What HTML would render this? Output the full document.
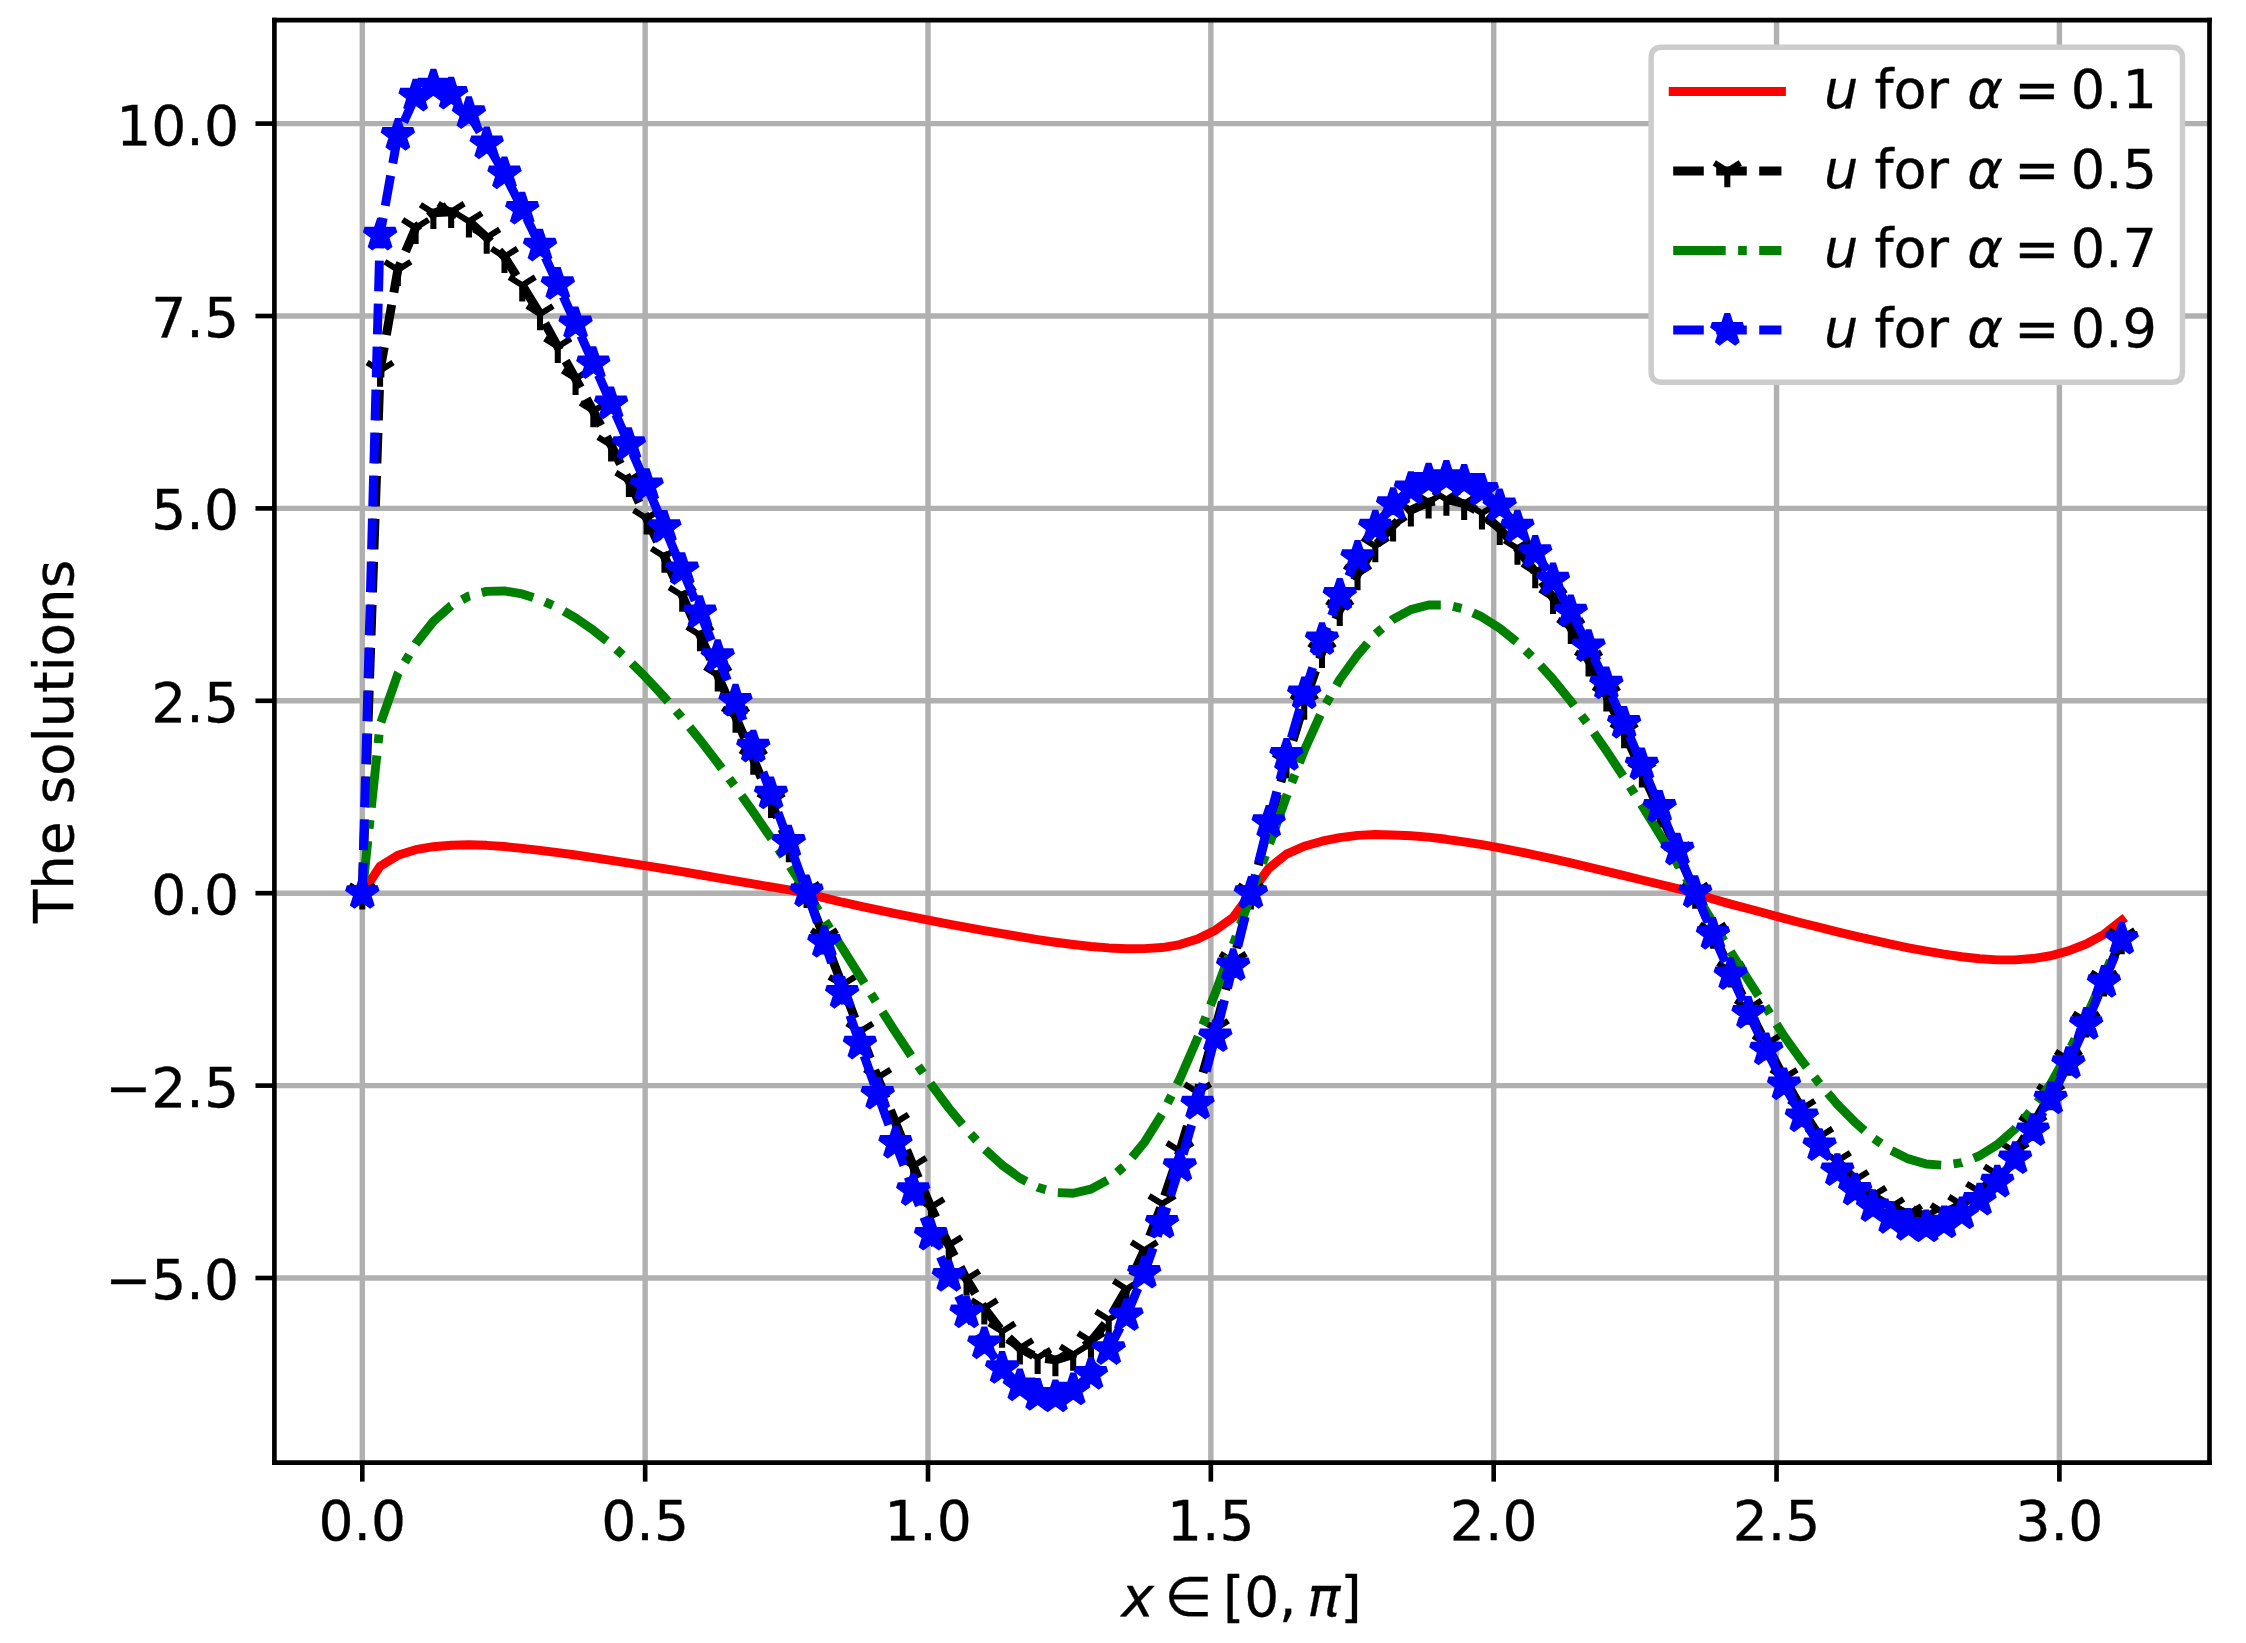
<!DOCTYPE html>
<html><head><meta charset="utf-8"><title>The solutions</title>
<style>html,body{margin:0;padding:0;background:#fff}svg{display:block}svg text{stroke:#000;stroke-width:0.06px}</style></head>
<body>
<svg width="2246" height="1643" viewBox="0 0 415.157116 303.696858" version="1.1">
 <defs>
  <style type="text/css">*{stroke-linejoin: round; stroke-linecap: butt}</style>
 </defs>
 <g id="figure_1">
  <g id="patch_1">
   <path d="M 0 303.696858 
L 415.157116 303.696858 
L 415.157116 0 
L 0 0 
z
" style="fill: #ffffff"/>
  </g>
  <g id="axes_1">
   <g id="patch_2">
    <path d="M 50.720887 270.369686 
L 408.410351 270.369686 
L 408.410351 3.733826 
L 50.720887 3.733826 
z
" style="fill: #ffffff"/>
   </g>
   <g id="matplotlib.axis_1">
    <g id="xtick_1">
     <g id="line2d_1">
      <path d="M 66.968577 270.369686 
L 66.968577 3.733826 
" clip-path="url(#pef61b93e71)" style="fill: none; stroke: #b0b0b0; stroke-linecap: square"/>
     </g>
     <g id="line2d_2">
      
      <g>
       <path d="M 0 0 L 0 3.5 " transform="translate(66.968577 270.369686)" style="stroke: #000000; stroke-width: 0.86"/>
      </g>
     </g>
     <g id="text_1">
      <text style="font-size: 10.19px; font-family: 'DejaVu Sans', 'Liberation Sans', sans-serif; text-anchor: middle" x="66.968577" y="284.612494" transform="rotate(-0 66.968577 284.612494)">0.0</text>
     </g>
    </g>
    <g id="xtick_2">
     <g id="line2d_3">
      <path d="M 119.251386 270.369686 
L 119.251386 3.733826 
" clip-path="url(#pef61b93e71)" style="fill: none; stroke: #b0b0b0; stroke-linecap: square"/>
     </g>
     <g id="line2d_4">
      <g>
       <path d="M 0 0 L 0 3.5 " transform="translate(119.251386 270.369686)" style="stroke: #000000; stroke-width: 0.86"/>
      </g>
     </g>
     <g id="text_2">
      <text style="font-size: 10.19px; font-family: 'DejaVu Sans', 'Liberation Sans', sans-serif; text-anchor: middle" x="119.251386" y="284.612494" transform="rotate(-0 119.251386 284.612494)">0.5</text>
     </g>
    </g>
    <g id="xtick_3">
     <g id="line2d_5">
      <path d="M 171.534196 270.369686 
L 171.534196 3.733826 
" clip-path="url(#pef61b93e71)" style="fill: none; stroke: #b0b0b0; stroke-linecap: square"/>
     </g>
     <g id="line2d_6">
      <g>
       <path d="M 0 0 L 0 3.5 " transform="translate(171.534196 270.369686)" style="stroke: #000000; stroke-width: 0.86"/>
      </g>
     </g>
     <g id="text_3">
      <text style="font-size: 10.19px; font-family: 'DejaVu Sans', 'Liberation Sans', sans-serif; text-anchor: middle" x="171.534196" y="284.612494" transform="rotate(-0 171.534196 284.612494)">1.0</text>
     </g>
    </g>
    <g id="xtick_4">
     <g id="line2d_7">
      <path d="M 223.817006 270.369686 
L 223.817006 3.733826 
" clip-path="url(#pef61b93e71)" style="fill: none; stroke: #b0b0b0; stroke-linecap: square"/>
     </g>
     <g id="line2d_8">
      <g>
       <path d="M 0 0 L 0 3.5 " transform="translate(223.817006 270.369686)" style="stroke: #000000; stroke-width: 0.86"/>
      </g>
     </g>
     <g id="text_4">
      <text style="font-size: 10.19px; font-family: 'DejaVu Sans', 'Liberation Sans', sans-serif; text-anchor: middle" x="223.817006" y="284.612494" transform="rotate(-0 223.817006 284.612494)">1.5</text>
     </g>
    </g>
    <g id="xtick_5">
     <g id="line2d_9">
      <path d="M 276.099815 270.369686 
L 276.099815 3.733826 
" clip-path="url(#pef61b93e71)" style="fill: none; stroke: #b0b0b0; stroke-linecap: square"/>
     </g>
     <g id="line2d_10">
      <g>
       <path d="M 0 0 L 0 3.5 " transform="translate(276.099815 270.369686)" style="stroke: #000000; stroke-width: 0.86"/>
      </g>
     </g>
     <g id="text_5">
      <text style="font-size: 10.19px; font-family: 'DejaVu Sans', 'Liberation Sans', sans-serif; text-anchor: middle" x="276.099815" y="284.612494" transform="rotate(-0 276.099815 284.612494)">2.0</text>
     </g>
    </g>
    <g id="xtick_6">
     <g id="line2d_11">
      <path d="M 328.382625 270.369686 
L 328.382625 3.733826 
" clip-path="url(#pef61b93e71)" style="fill: none; stroke: #b0b0b0; stroke-linecap: square"/>
     </g>
     <g id="line2d_12">
      <g>
       <path d="M 0 0 L 0 3.5 " transform="translate(328.382625 270.369686)" style="stroke: #000000; stroke-width: 0.86"/>
      </g>
     </g>
     <g id="text_6">
      <text style="font-size: 10.19px; font-family: 'DejaVu Sans', 'Liberation Sans', sans-serif; text-anchor: middle" x="328.382625" y="284.612494" transform="rotate(-0 328.382625 284.612494)">2.5</text>
     </g>
    </g>
    <g id="xtick_7">
     <g id="line2d_13">
      <path d="M 380.665434 270.369686 
L 380.665434 3.733826 
" clip-path="url(#pef61b93e71)" style="fill: none; stroke: #b0b0b0; stroke-linecap: square"/>
     </g>
     <g id="line2d_14">
      <g>
       <path d="M 0 0 L 0 3.5 " transform="translate(380.665434 270.369686)" style="stroke: #000000; stroke-width: 0.86"/>
      </g>
     </g>
     <g id="text_7">
      <text style="font-size: 10.19px; font-family: 'DejaVu Sans', 'Liberation Sans', sans-serif; text-anchor: middle" x="380.665434" y="284.612494" transform="rotate(-0 380.665434 284.612494)">3.0</text>
     </g>
    </g>
    <g id="text_8">
     <!-- $x\in [0,\pi]$ -->
     <g transform="translate(207.286369 299.044109)">
      <text><tspan x="0" y="-0.40625" style="font-style: oblique; font-size: 10.15px; font-family: 'DejaVu Sans', 'Liberation Sans', sans-serif">x</tspan> <tspan x="7.964539" y="-0.40625" style="font-size: 10.15px; font-family: 'DejaVu Sans', 'Liberation Sans', sans-serif">∈</tspan> <tspan x="18.756958" y="-0.40625" style="font-size: 10.15px; font-family: 'DejaVu Sans', 'Liberation Sans', sans-serif">[</tspan><tspan x="22.707092" y="-0.40625" style="font-size: 10.15px; font-family: 'DejaVu Sans', 'Liberation Sans', sans-serif">0</tspan><tspan x="29.148926" y="-0.40625" style="font-size: 10.15px; font-family: 'DejaVu Sans', 'Liberation Sans', sans-serif">,</tspan> <tspan x="34.339966" y="-0.40625" style="font-style: oblique; font-size: 10.15px; font-family: 'DejaVu Sans', 'Liberation Sans', sans-serif">π</tspan><tspan x="40.43573" y="-0.40625" style="font-size: 10.15px; font-family: 'DejaVu Sans', 'Liberation Sans', sans-serif">]</tspan></text>
     </g>
    </g>
   </g>
   <g id="matplotlib.axis_2">
    <g id="ytick_1">
     <g id="line2d_15">
      <path d="M 50.720887 236.229205 
L 408.410351 236.229205 
" clip-path="url(#pef61b93e71)" style="fill: none; stroke: #b0b0b0; stroke-linecap: square"/>
     </g>
     <g id="line2d_16">
      
      <g>
       <path d="M 0 0 L -3.5 0 " transform="translate(50.720887 236.229205)" style="stroke: #000000; stroke-width: 0.86"/>
      </g>
     </g>
     <g id="text_9">
      <text style="font-size: 10.19px; font-family: 'DejaVu Sans', 'Liberation Sans', sans-serif; text-anchor: end" x="44.170887" y="240.100609" transform="rotate(-0 44.170887 240.100609)">−5.0</text>
     </g>
    </g>
    <g id="ytick_2">
     <g id="line2d_17">
      <path d="M 50.720887 200.665434 
L 408.410351 200.665434 
" clip-path="url(#pef61b93e71)" style="fill: none; stroke: #b0b0b0; stroke-linecap: square"/>
     </g>
     <g id="line2d_18">
      <g>
       <path d="M 0 0 L -3.5 0 " transform="translate(50.720887 200.665434)" style="stroke: #000000; stroke-width: 0.86"/>
      </g>
     </g>
     <g id="text_10">
      <text style="font-size: 10.19px; font-family: 'DejaVu Sans', 'Liberation Sans', sans-serif; text-anchor: end" x="44.170887" y="204.536838" transform="rotate(-0 44.170887 204.536838)">−2.5</text>
     </g>
    </g>
    <g id="ytick_3">
     <g id="line2d_19">
      <path d="M 50.720887 165.101664 
L 408.410351 165.101664 
" clip-path="url(#pef61b93e71)" style="fill: none; stroke: #b0b0b0; stroke-linecap: square"/>
     </g>
     <g id="line2d_20">
      <g>
       <path d="M 0 0 L -3.5 0 " transform="translate(50.720887 165.101664)" style="stroke: #000000; stroke-width: 0.86"/>
      </g>
     </g>
     <g id="text_11">
      <text style="font-size: 10.19px; font-family: 'DejaVu Sans', 'Liberation Sans', sans-serif; text-anchor: end" x="44.170887" y="168.973067" transform="rotate(-0 44.170887 168.973067)">0.0</text>
     </g>
    </g>
    <g id="ytick_4">
     <g id="line2d_21">
      <path d="M 50.720887 129.537893 
L 408.410351 129.537893 
" clip-path="url(#pef61b93e71)" style="fill: none; stroke: #b0b0b0; stroke-linecap: square"/>
     </g>
     <g id="line2d_22">
      <g>
       <path d="M 0 0 L -3.5 0 " transform="translate(50.720887 129.537893)" style="stroke: #000000; stroke-width: 0.86"/>
      </g>
     </g>
     <g id="text_12">
      <text style="font-size: 10.19px; font-family: 'DejaVu Sans', 'Liberation Sans', sans-serif; text-anchor: end" x="44.170887" y="133.409297" transform="rotate(-0 44.170887 133.409297)">2.5</text>
     </g>
    </g>
    <g id="ytick_5">
     <g id="line2d_23">
      <path d="M 50.720887 93.974122 
L 408.410351 93.974122 
" clip-path="url(#pef61b93e71)" style="fill: none; stroke: #b0b0b0; stroke-linecap: square"/>
     </g>
     <g id="line2d_24">
      <g>
       <path d="M 0 0 L -3.5 0 " transform="translate(50.720887 93.974122)" style="stroke: #000000; stroke-width: 0.86"/>
      </g>
     </g>
     <g id="text_13">
      <text style="font-size: 10.19px; font-family: 'DejaVu Sans', 'Liberation Sans', sans-serif; text-anchor: end" x="44.170887" y="97.845526" transform="rotate(-0 44.170887 97.845526)">5.0</text>
     </g>
    </g>
    <g id="ytick_6">
     <g id="line2d_25">
      <path d="M 50.720887 58.410351 
L 408.410351 58.410351 
" clip-path="url(#pef61b93e71)" style="fill: none; stroke: #b0b0b0; stroke-linecap: square"/>
     </g>
     <g id="line2d_26">
      <g>
       <path d="M 0 0 L -3.5 0 " transform="translate(50.720887 58.410351)" style="stroke: #000000; stroke-width: 0.86"/>
      </g>
     </g>
     <g id="text_14">
      <text style="font-size: 10.19px; font-family: 'DejaVu Sans', 'Liberation Sans', sans-serif; text-anchor: end" x="44.170887" y="62.281755" transform="rotate(-0 44.170887 62.281755)">7.5</text>
     </g>
    </g>
    <g id="ytick_7">
     <g id="line2d_27">
      <path d="M 50.720887 22.84658 
L 408.410351 22.84658 
" clip-path="url(#pef61b93e71)" style="fill: none; stroke: #b0b0b0; stroke-linecap: square"/>
     </g>
     <g id="line2d_28">
      <g>
       <path d="M 0 0 L -3.5 0 " transform="translate(50.720887 22.84658)" style="stroke: #000000; stroke-width: 0.86"/>
      </g>
     </g>
     <g id="text_15">
      <text style="font-size: 10.19px; font-family: 'DejaVu Sans', 'Liberation Sans', sans-serif; text-anchor: end" x="44.170887" y="26.717984" transform="rotate(-0 44.170887 26.717984)">10.0</text>
     </g>
    </g>
    <g id="text_16">
     <text style="font-size: 10.08px; font-family: 'DejaVu Sans', 'Liberation Sans', sans-serif; text-anchor: middle" x="13.530376" y="137.051756" transform="rotate(-90 13.530376 137.051756)">The solutions</text>
    </g>
   </g>
   <g id="line2d_29">
    <path d="M 66.968577 165.101664 
L 70.253603 160.122736 
L 73.538628 158.102713 
L 76.823654 157.064251 
L 80.10868 156.509457 
L 83.393706 156.239172 
L 86.678732 156.153819 
L 89.963757 156.253397 
L 93.248783 156.481006 
L 96.533809 156.808192 
L 99.818835 157.192281 
L 103.103861 157.596094 
L 106.388886 158.031586 
L 109.673912 158.514583 
L 112.958938 159.027372 
L 116.243964 159.547339 
L 119.52899 160.065834 
L 122.814016 160.582788 
L 126.099041 161.118521 
L 129.384067 161.688799 
L 132.669093 162.270787 
L 135.954119 162.838831 
L 139.239145 163.394603 
L 142.52417 163.944932 
L 145.809196 164.489967 
L 149.094222 165.101664 
L 152.379248 165.96942 
L 155.664274 166.769268 
L 158.949299 167.477323 
L 162.234325 168.171107 
L 165.519351 168.857198 
L 168.804377 169.526752 
L 172.089403 170.18017 
L 175.374428 170.817986 
L 178.659454 171.432015 
L 181.94448 172.016522 
L 185.229506 172.584281 
L 188.514532 173.145254 
L 191.799558 173.679645 
L 195.084583 174.164013 
L 198.369609 174.590078 
L 201.654635 174.949183 
L 204.939661 175.216 
L 208.224687 175.358255 
L 211.509712 175.34403 
L 214.794738 175.144872 
L 218.079764 174.604303 
L 221.36479 173.565841 
L 224.649816 171.929908 
L 227.934841 169.582699 
L 231.219867 165.101664 
L 234.504893 160.52105 
L 237.789919 157.875105 
L 241.074945 156.424104 
L 244.359971 155.48522 
L 247.644996 154.830847 
L 250.930022 154.418307 
L 254.215048 154.261826 
L 257.500074 154.332954 
L 260.7851 154.475209 
L 264.070125 154.745494 
L 267.355151 155.139366 
L 270.640177 155.61325 
L 273.925203 156.133123 
L 277.210229 156.708614 
L 280.495254 157.352413 
L 283.78028 158.045811 
L 287.065306 158.766735 
L 290.350332 159.511039 
L 293.635358 160.277873 
L 296.920384 161.061619 
L 300.205409 161.855753 
L 303.490435 162.654876 
L 306.775461 163.453936 
L 310.060487 164.248133 
L 313.345513 165.101664 
L 316.630538 166.175689 
L 319.915564 167.123804 
L 323.20059 167.975216 
L 326.485616 168.859514 
L 329.770642 169.753405 
L 333.055667 170.608889 
L 336.340693 171.432015 
L 339.625719 172.238074 
L 342.910745 173.025272 
L 346.195771 173.78667 
L 349.480797 174.511837 
L 352.765822 175.19012 
L 356.050848 175.813471 
L 359.335874 176.372763 
L 362.6209 176.851933 
L 365.905926 177.221797 
L 369.190951 177.420954 
L 372.475977 177.420954 
L 375.761003 177.17912 
L 379.046029 176.661312 
L 382.331055 175.770795 
L 385.61608 174.490499 
L 388.901106 172.698085 
L 392.186132 170.109043 
" clip-path="url(#pef61b93e71)" style="fill: none; stroke: #ff0000; stroke-width: 1.65; stroke-linecap: square"/>
   </g>
   <g id="line2d_30">
    <path d="M 66.968577 165.101664 
L 70.253603 68.510462 
L 73.538628 49.875046 
L 76.823654 42.122144 
L 80.10868 39.34817 
L 83.393706 39.134787 
L 86.678732 40.912976 
L 89.963757 43.900333 
L 93.248783 47.45671 
L 96.533809 52.720148 
L 99.818835 58.054713 
L 103.103861 64.100555 
L 106.388886 70.00414 
L 109.673912 75.978854 
L 112.958938 82.309205 
L 116.243964 88.852939 
L 119.52899 95.815924 
L 122.814016 102.888038 
L 126.099041 110.071114 
L 129.384067 117.37505 
L 132.669093 124.818279 
L 135.954119 132.421466 
L 139.239145 140.205406 
L 142.52417 148.192348 
L 145.809196 156.401835 
L 149.094222 164.833469 
L 152.379248 173.415185 
L 155.664274 182.0584 
L 158.949299 190.676423 
L 162.234325 199.184442 
L 165.519351 207.499423 
L 168.804377 215.530754 
L 172.089403 223.138053 
L 175.374428 230.16309 
L 178.659454 236.44505 
L 181.94448 241.820388 
L 185.229506 246.122804 
L 188.514532 249.200975 
L 191.799558 250.971885 
L 195.084583 251.368727 
L 198.369609 250.365872 
L 201.654635 247.913277 
L 204.939661 243.904497 
L 208.224687 238.27056 
L 211.509712 231.094903 
L 214.794738 222.539946 
L 218.079764 212.753018 
L 221.36479 201.900817 
L 224.649816 190.170505 
L 227.934841 177.770352 
L 231.219867 165.110596 
L 234.504893 152.654552 
L 237.789919 140.844753 
L 241.074945 130.031218 
L 244.359971 120.497735 
L 247.644996 112.692187 
L 250.930022 106.116593 
L 254.215048 100.95008 
L 257.500074 97.106023 
L 260.7851 94.319436 
L 264.070125 92.820955 
L 267.355151 92.328497 
L 270.640177 93.112806 
L 273.925203 94.879863 
L 277.210229 97.716814 
L 280.495254 101.375098 
L 283.78028 105.746182 
L 287.065306 110.506254 
L 290.350332 116.035692 
L 293.635358 122.040442 
L 296.920384 128.497678 
L 300.205409 135.320228 
L 303.490435 142.553456 
L 306.775461 149.970268 
L 310.060487 157.474697 
L 313.345513 164.967246 
L 316.630538 172.348071 
L 319.915564 179.52915 
L 323.20059 186.436961 
L 326.485616 192.990908 
L 329.770642 199.236172 
L 333.055667 204.963398 
L 336.340693 210.123969 
L 339.625719 214.586199 
L 342.910745 218.082165 
L 346.195771 221.03154 
L 349.480797 223.126431 
L 352.765822 224.418679 
L 356.050848 224.811584 
L 359.335874 224.222522 
L 362.6209 222.68746 
L 365.905926 220.279852 
L 369.190951 217.08366 
L 372.475977 212.916886 
L 375.761003 207.902156 
L 379.046029 202.203149 
L 382.331055 195.857875 
L 385.61608 188.793586 
L 388.901106 181.216203 
L 392.186132 173.402275 
" clip-path="url(#pef61b93e71)" style="fill: none; stroke-dasharray: 5.65,2.3; stroke-dashoffset: 0; stroke: #000000; stroke-width: 1.65"/>
    
    <g clip-path="url(#pef61b93e71)">
     <path d="M 0 0 L 0 3 M 0 0 L 2.4 -1.5 M 0 0 L -2.4 -1.5 " transform="translate(66.968577 165.101664)" style="stroke: #000000; stroke-width: 1.12"/>
     <path d="M 0 0 L 0 3 M 0 0 L 2.4 -1.5 M 0 0 L -2.4 -1.5 " transform="translate(70.253603 68.510462)" style="stroke: #000000; stroke-width: 1.12"/>
     <path d="M 0 0 L 0 3 M 0 0 L 2.4 -1.5 M 0 0 L -2.4 -1.5 " transform="translate(73.538628 49.875046)" style="stroke: #000000; stroke-width: 1.12"/>
     <path d="M 0 0 L 0 3 M 0 0 L 2.4 -1.5 M 0 0 L -2.4 -1.5 " transform="translate(76.823654 42.122144)" style="stroke: #000000; stroke-width: 1.12"/>
     <path d="M 0 0 L 0 3 M 0 0 L 2.4 -1.5 M 0 0 L -2.4 -1.5 " transform="translate(80.10868 39.34817)" style="stroke: #000000; stroke-width: 1.12"/>
     <path d="M 0 0 L 0 3 M 0 0 L 2.4 -1.5 M 0 0 L -2.4 -1.5 " transform="translate(83.393706 39.134787)" style="stroke: #000000; stroke-width: 1.12"/>
     <path d="M 0 0 L 0 3 M 0 0 L 2.4 -1.5 M 0 0 L -2.4 -1.5 " transform="translate(86.678732 40.912976)" style="stroke: #000000; stroke-width: 1.12"/>
     <path d="M 0 0 L 0 3 M 0 0 L 2.4 -1.5 M 0 0 L -2.4 -1.5 " transform="translate(89.963757 43.900333)" style="stroke: #000000; stroke-width: 1.12"/>
     <path d="M 0 0 L 0 3 M 0 0 L 2.4 -1.5 M 0 0 L -2.4 -1.5 " transform="translate(93.248783 47.45671)" style="stroke: #000000; stroke-width: 1.12"/>
     <path d="M 0 0 L 0 3 M 0 0 L 2.4 -1.5 M 0 0 L -2.4 -1.5 " transform="translate(96.533809 52.720148)" style="stroke: #000000; stroke-width: 1.12"/>
     <path d="M 0 0 L 0 3 M 0 0 L 2.4 -1.5 M 0 0 L -2.4 -1.5 " transform="translate(99.818835 58.054713)" style="stroke: #000000; stroke-width: 1.12"/>
     <path d="M 0 0 L 0 3 M 0 0 L 2.4 -1.5 M 0 0 L -2.4 -1.5 " transform="translate(103.103861 64.100555)" style="stroke: #000000; stroke-width: 1.12"/>
     <path d="M 0 0 L 0 3 M 0 0 L 2.4 -1.5 M 0 0 L -2.4 -1.5 " transform="translate(106.388886 70.00414)" style="stroke: #000000; stroke-width: 1.12"/>
     <path d="M 0 0 L 0 3 M 0 0 L 2.4 -1.5 M 0 0 L -2.4 -1.5 " transform="translate(109.673912 75.978854)" style="stroke: #000000; stroke-width: 1.12"/>
     <path d="M 0 0 L 0 3 M 0 0 L 2.4 -1.5 M 0 0 L -2.4 -1.5 " transform="translate(112.958938 82.309205)" style="stroke: #000000; stroke-width: 1.12"/>
     <path d="M 0 0 L 0 3 M 0 0 L 2.4 -1.5 M 0 0 L -2.4 -1.5 " transform="translate(116.243964 88.852939)" style="stroke: #000000; stroke-width: 1.12"/>
     <path d="M 0 0 L 0 3 M 0 0 L 2.4 -1.5 M 0 0 L -2.4 -1.5 " transform="translate(119.52899 95.815924)" style="stroke: #000000; stroke-width: 1.12"/>
     <path d="M 0 0 L 0 3 M 0 0 L 2.4 -1.5 M 0 0 L -2.4 -1.5 " transform="translate(122.814016 102.888038)" style="stroke: #000000; stroke-width: 1.12"/>
     <path d="M 0 0 L 0 3 M 0 0 L 2.4 -1.5 M 0 0 L -2.4 -1.5 " transform="translate(126.099041 110.071114)" style="stroke: #000000; stroke-width: 1.12"/>
     <path d="M 0 0 L 0 3 M 0 0 L 2.4 -1.5 M 0 0 L -2.4 -1.5 " transform="translate(129.384067 117.37505)" style="stroke: #000000; stroke-width: 1.12"/>
     <path d="M 0 0 L 0 3 M 0 0 L 2.4 -1.5 M 0 0 L -2.4 -1.5 " transform="translate(132.669093 124.818279)" style="stroke: #000000; stroke-width: 1.12"/>
     <path d="M 0 0 L 0 3 M 0 0 L 2.4 -1.5 M 0 0 L -2.4 -1.5 " transform="translate(135.954119 132.421466)" style="stroke: #000000; stroke-width: 1.12"/>
     <path d="M 0 0 L 0 3 M 0 0 L 2.4 -1.5 M 0 0 L -2.4 -1.5 " transform="translate(139.239145 140.205406)" style="stroke: #000000; stroke-width: 1.12"/>
     <path d="M 0 0 L 0 3 M 0 0 L 2.4 -1.5 M 0 0 L -2.4 -1.5 " transform="translate(142.52417 148.192348)" style="stroke: #000000; stroke-width: 1.12"/>
     <path d="M 0 0 L 0 3 M 0 0 L 2.4 -1.5 M 0 0 L -2.4 -1.5 " transform="translate(145.809196 156.401835)" style="stroke: #000000; stroke-width: 1.12"/>
     <path d="M 0 0 L 0 3 M 0 0 L 2.4 -1.5 M 0 0 L -2.4 -1.5 " transform="translate(149.094222 164.833469)" style="stroke: #000000; stroke-width: 1.12"/>
     <path d="M 0 0 L 0 3 M 0 0 L 2.4 -1.5 M 0 0 L -2.4 -1.5 " transform="translate(152.379248 173.415185)" style="stroke: #000000; stroke-width: 1.12"/>
     <path d="M 0 0 L 0 3 M 0 0 L 2.4 -1.5 M 0 0 L -2.4 -1.5 " transform="translate(155.664274 182.0584)" style="stroke: #000000; stroke-width: 1.12"/>
     <path d="M 0 0 L 0 3 M 0 0 L 2.4 -1.5 M 0 0 L -2.4 -1.5 " transform="translate(158.949299 190.676423)" style="stroke: #000000; stroke-width: 1.12"/>
     <path d="M 0 0 L 0 3 M 0 0 L 2.4 -1.5 M 0 0 L -2.4 -1.5 " transform="translate(162.234325 199.184442)" style="stroke: #000000; stroke-width: 1.12"/>
     <path d="M 0 0 L 0 3 M 0 0 L 2.4 -1.5 M 0 0 L -2.4 -1.5 " transform="translate(165.519351 207.499423)" style="stroke: #000000; stroke-width: 1.12"/>
     <path d="M 0 0 L 0 3 M 0 0 L 2.4 -1.5 M 0 0 L -2.4 -1.5 " transform="translate(168.804377 215.530754)" style="stroke: #000000; stroke-width: 1.12"/>
     <path d="M 0 0 L 0 3 M 0 0 L 2.4 -1.5 M 0 0 L -2.4 -1.5 " transform="translate(172.089403 223.138053)" style="stroke: #000000; stroke-width: 1.12"/>
     <path d="M 0 0 L 0 3 M 0 0 L 2.4 -1.5 M 0 0 L -2.4 -1.5 " transform="translate(175.374428 230.16309)" style="stroke: #000000; stroke-width: 1.12"/>
     <path d="M 0 0 L 0 3 M 0 0 L 2.4 -1.5 M 0 0 L -2.4 -1.5 " transform="translate(178.659454 236.44505)" style="stroke: #000000; stroke-width: 1.12"/>
     <path d="M 0 0 L 0 3 M 0 0 L 2.4 -1.5 M 0 0 L -2.4 -1.5 " transform="translate(181.94448 241.820388)" style="stroke: #000000; stroke-width: 1.12"/>
     <path d="M 0 0 L 0 3 M 0 0 L 2.4 -1.5 M 0 0 L -2.4 -1.5 " transform="translate(185.229506 246.122804)" style="stroke: #000000; stroke-width: 1.12"/>
     <path d="M 0 0 L 0 3 M 0 0 L 2.4 -1.5 M 0 0 L -2.4 -1.5 " transform="translate(188.514532 249.200975)" style="stroke: #000000; stroke-width: 1.12"/>
     <path d="M 0 0 L 0 3 M 0 0 L 2.4 -1.5 M 0 0 L -2.4 -1.5 " transform="translate(191.799558 250.971885)" style="stroke: #000000; stroke-width: 1.12"/>
     <path d="M 0 0 L 0 3 M 0 0 L 2.4 -1.5 M 0 0 L -2.4 -1.5 " transform="translate(195.084583 251.368727)" style="stroke: #000000; stroke-width: 1.12"/>
     <path d="M 0 0 L 0 3 M 0 0 L 2.4 -1.5 M 0 0 L -2.4 -1.5 " transform="translate(198.369609 250.365872)" style="stroke: #000000; stroke-width: 1.12"/>
     <path d="M 0 0 L 0 3 M 0 0 L 2.4 -1.5 M 0 0 L -2.4 -1.5 " transform="translate(201.654635 247.913277)" style="stroke: #000000; stroke-width: 1.12"/>
     <path d="M 0 0 L 0 3 M 0 0 L 2.4 -1.5 M 0 0 L -2.4 -1.5 " transform="translate(204.939661 243.904497)" style="stroke: #000000; stroke-width: 1.12"/>
     <path d="M 0 0 L 0 3 M 0 0 L 2.4 -1.5 M 0 0 L -2.4 -1.5 " transform="translate(208.224687 238.27056)" style="stroke: #000000; stroke-width: 1.12"/>
     <path d="M 0 0 L 0 3 M 0 0 L 2.4 -1.5 M 0 0 L -2.4 -1.5 " transform="translate(211.509712 231.094903)" style="stroke: #000000; stroke-width: 1.12"/>
     <path d="M 0 0 L 0 3 M 0 0 L 2.4 -1.5 M 0 0 L -2.4 -1.5 " transform="translate(214.794738 222.539946)" style="stroke: #000000; stroke-width: 1.12"/>
     <path d="M 0 0 L 0 3 M 0 0 L 2.4 -1.5 M 0 0 L -2.4 -1.5 " transform="translate(218.079764 212.753018)" style="stroke: #000000; stroke-width: 1.12"/>
     <path d="M 0 0 L 0 3 M 0 0 L 2.4 -1.5 M 0 0 L -2.4 -1.5 " transform="translate(221.36479 201.900817)" style="stroke: #000000; stroke-width: 1.12"/>
     <path d="M 0 0 L 0 3 M 0 0 L 2.4 -1.5 M 0 0 L -2.4 -1.5 " transform="translate(224.649816 190.170505)" style="stroke: #000000; stroke-width: 1.12"/>
     <path d="M 0 0 L 0 3 M 0 0 L 2.4 -1.5 M 0 0 L -2.4 -1.5 " transform="translate(227.934841 177.770352)" style="stroke: #000000; stroke-width: 1.12"/>
     <path d="M 0 0 L 0 3 M 0 0 L 2.4 -1.5 M 0 0 L -2.4 -1.5 " transform="translate(231.219867 165.110596)" style="stroke: #000000; stroke-width: 1.12"/>
     <path d="M 0 0 L 0 3 M 0 0 L 2.4 -1.5 M 0 0 L -2.4 -1.5 " transform="translate(234.504893 152.654552)" style="stroke: #000000; stroke-width: 1.12"/>
     <path d="M 0 0 L 0 3 M 0 0 L 2.4 -1.5 M 0 0 L -2.4 -1.5 " transform="translate(237.789919 140.844753)" style="stroke: #000000; stroke-width: 1.12"/>
     <path d="M 0 0 L 0 3 M 0 0 L 2.4 -1.5 M 0 0 L -2.4 -1.5 " transform="translate(241.074945 130.031218)" style="stroke: #000000; stroke-width: 1.12"/>
     <path d="M 0 0 L 0 3 M 0 0 L 2.4 -1.5 M 0 0 L -2.4 -1.5 " transform="translate(244.359971 120.497735)" style="stroke: #000000; stroke-width: 1.12"/>
     <path d="M 0 0 L 0 3 M 0 0 L 2.4 -1.5 M 0 0 L -2.4 -1.5 " transform="translate(247.644996 112.692187)" style="stroke: #000000; stroke-width: 1.12"/>
     <path d="M 0 0 L 0 3 M 0 0 L 2.4 -1.5 M 0 0 L -2.4 -1.5 " transform="translate(250.930022 106.116593)" style="stroke: #000000; stroke-width: 1.12"/>
     <path d="M 0 0 L 0 3 M 0 0 L 2.4 -1.5 M 0 0 L -2.4 -1.5 " transform="translate(254.215048 100.95008)" style="stroke: #000000; stroke-width: 1.12"/>
     <path d="M 0 0 L 0 3 M 0 0 L 2.4 -1.5 M 0 0 L -2.4 -1.5 " transform="translate(257.500074 97.106023)" style="stroke: #000000; stroke-width: 1.12"/>
     <path d="M 0 0 L 0 3 M 0 0 L 2.4 -1.5 M 0 0 L -2.4 -1.5 " transform="translate(260.7851 94.319436)" style="stroke: #000000; stroke-width: 1.12"/>
     <path d="M 0 0 L 0 3 M 0 0 L 2.4 -1.5 M 0 0 L -2.4 -1.5 " transform="translate(264.070125 92.820955)" style="stroke: #000000; stroke-width: 1.12"/>
     <path d="M 0 0 L 0 3 M 0 0 L 2.4 -1.5 M 0 0 L -2.4 -1.5 " transform="translate(267.355151 92.328497)" style="stroke: #000000; stroke-width: 1.12"/>
     <path d="M 0 0 L 0 3 M 0 0 L 2.4 -1.5 M 0 0 L -2.4 -1.5 " transform="translate(270.640177 93.112806)" style="stroke: #000000; stroke-width: 1.12"/>
     <path d="M 0 0 L 0 3 M 0 0 L 2.4 -1.5 M 0 0 L -2.4 -1.5 " transform="translate(273.925203 94.879863)" style="stroke: #000000; stroke-width: 1.12"/>
     <path d="M 0 0 L 0 3 M 0 0 L 2.4 -1.5 M 0 0 L -2.4 -1.5 " transform="translate(277.210229 97.716814)" style="stroke: #000000; stroke-width: 1.12"/>
     <path d="M 0 0 L 0 3 M 0 0 L 2.4 -1.5 M 0 0 L -2.4 -1.5 " transform="translate(280.495254 101.375098)" style="stroke: #000000; stroke-width: 1.12"/>
     <path d="M 0 0 L 0 3 M 0 0 L 2.4 -1.5 M 0 0 L -2.4 -1.5 " transform="translate(283.78028 105.746182)" style="stroke: #000000; stroke-width: 1.12"/>
     <path d="M 0 0 L 0 3 M 0 0 L 2.4 -1.5 M 0 0 L -2.4 -1.5 " transform="translate(287.065306 110.506254)" style="stroke: #000000; stroke-width: 1.12"/>
     <path d="M 0 0 L 0 3 M 0 0 L 2.4 -1.5 M 0 0 L -2.4 -1.5 " transform="translate(290.350332 116.035692)" style="stroke: #000000; stroke-width: 1.12"/>
     <path d="M 0 0 L 0 3 M 0 0 L 2.4 -1.5 M 0 0 L -2.4 -1.5 " transform="translate(293.635358 122.040442)" style="stroke: #000000; stroke-width: 1.12"/>
     <path d="M 0 0 L 0 3 M 0 0 L 2.4 -1.5 M 0 0 L -2.4 -1.5 " transform="translate(296.920384 128.497678)" style="stroke: #000000; stroke-width: 1.12"/>
     <path d="M 0 0 L 0 3 M 0 0 L 2.4 -1.5 M 0 0 L -2.4 -1.5 " transform="translate(300.205409 135.320228)" style="stroke: #000000; stroke-width: 1.12"/>
     <path d="M 0 0 L 0 3 M 0 0 L 2.4 -1.5 M 0 0 L -2.4 -1.5 " transform="translate(303.490435 142.553456)" style="stroke: #000000; stroke-width: 1.12"/>
     <path d="M 0 0 L 0 3 M 0 0 L 2.4 -1.5 M 0 0 L -2.4 -1.5 " transform="translate(306.775461 149.970268)" style="stroke: #000000; stroke-width: 1.12"/>
     <path d="M 0 0 L 0 3 M 0 0 L 2.4 -1.5 M 0 0 L -2.4 -1.5 " transform="translate(310.060487 157.474697)" style="stroke: #000000; stroke-width: 1.12"/>
     <path d="M 0 0 L 0 3 M 0 0 L 2.4 -1.5 M 0 0 L -2.4 -1.5 " transform="translate(313.345513 164.967246)" style="stroke: #000000; stroke-width: 1.12"/>
     <path d="M 0 0 L 0 3 M 0 0 L 2.4 -1.5 M 0 0 L -2.4 -1.5 " transform="translate(316.630538 172.348071)" style="stroke: #000000; stroke-width: 1.12"/>
     <path d="M 0 0 L 0 3 M 0 0 L 2.4 -1.5 M 0 0 L -2.4 -1.5 " transform="translate(319.915564 179.52915)" style="stroke: #000000; stroke-width: 1.12"/>
     <path d="M 0 0 L 0 3 M 0 0 L 2.4 -1.5 M 0 0 L -2.4 -1.5 " transform="translate(323.20059 186.436961)" style="stroke: #000000; stroke-width: 1.12"/>
     <path d="M 0 0 L 0 3 M 0 0 L 2.4 -1.5 M 0 0 L -2.4 -1.5 " transform="translate(326.485616 192.990908)" style="stroke: #000000; stroke-width: 1.12"/>
     <path d="M 0 0 L 0 3 M 0 0 L 2.4 -1.5 M 0 0 L -2.4 -1.5 " transform="translate(329.770642 199.236172)" style="stroke: #000000; stroke-width: 1.12"/>
     <path d="M 0 0 L 0 3 M 0 0 L 2.4 -1.5 M 0 0 L -2.4 -1.5 " transform="translate(333.055667 204.963398)" style="stroke: #000000; stroke-width: 1.12"/>
     <path d="M 0 0 L 0 3 M 0 0 L 2.4 -1.5 M 0 0 L -2.4 -1.5 " transform="translate(336.340693 210.123969)" style="stroke: #000000; stroke-width: 1.12"/>
     <path d="M 0 0 L 0 3 M 0 0 L 2.4 -1.5 M 0 0 L -2.4 -1.5 " transform="translate(339.625719 214.586199)" style="stroke: #000000; stroke-width: 1.12"/>
     <path d="M 0 0 L 0 3 M 0 0 L 2.4 -1.5 M 0 0 L -2.4 -1.5 " transform="translate(342.910745 218.082165)" style="stroke: #000000; stroke-width: 1.12"/>
     <path d="M 0 0 L 0 3 M 0 0 L 2.4 -1.5 M 0 0 L -2.4 -1.5 " transform="translate(346.195771 221.03154)" style="stroke: #000000; stroke-width: 1.12"/>
     <path d="M 0 0 L 0 3 M 0 0 L 2.4 -1.5 M 0 0 L -2.4 -1.5 " transform="translate(349.480797 223.126431)" style="stroke: #000000; stroke-width: 1.12"/>
     <path d="M 0 0 L 0 3 M 0 0 L 2.4 -1.5 M 0 0 L -2.4 -1.5 " transform="translate(352.765822 224.418679)" style="stroke: #000000; stroke-width: 1.12"/>
     <path d="M 0 0 L 0 3 M 0 0 L 2.4 -1.5 M 0 0 L -2.4 -1.5 " transform="translate(356.050848 224.811584)" style="stroke: #000000; stroke-width: 1.12"/>
     <path d="M 0 0 L 0 3 M 0 0 L 2.4 -1.5 M 0 0 L -2.4 -1.5 " transform="translate(359.335874 224.222522)" style="stroke: #000000; stroke-width: 1.12"/>
     <path d="M 0 0 L 0 3 M 0 0 L 2.4 -1.5 M 0 0 L -2.4 -1.5 " transform="translate(362.6209 222.68746)" style="stroke: #000000; stroke-width: 1.12"/>
     <path d="M 0 0 L 0 3 M 0 0 L 2.4 -1.5 M 0 0 L -2.4 -1.5 " transform="translate(365.905926 220.279852)" style="stroke: #000000; stroke-width: 1.12"/>
     <path d="M 0 0 L 0 3 M 0 0 L 2.4 -1.5 M 0 0 L -2.4 -1.5 " transform="translate(369.190951 217.08366)" style="stroke: #000000; stroke-width: 1.12"/>
     <path d="M 0 0 L 0 3 M 0 0 L 2.4 -1.5 M 0 0 L -2.4 -1.5 " transform="translate(372.475977 212.916886)" style="stroke: #000000; stroke-width: 1.12"/>
     <path d="M 0 0 L 0 3 M 0 0 L 2.4 -1.5 M 0 0 L -2.4 -1.5 " transform="translate(375.761003 207.902156)" style="stroke: #000000; stroke-width: 1.12"/>
     <path d="M 0 0 L 0 3 M 0 0 L 2.4 -1.5 M 0 0 L -2.4 -1.5 " transform="translate(379.046029 202.203149)" style="stroke: #000000; stroke-width: 1.12"/>
     <path d="M 0 0 L 0 3 M 0 0 L 2.4 -1.5 M 0 0 L -2.4 -1.5 " transform="translate(382.331055 195.857875)" style="stroke: #000000; stroke-width: 1.12"/>
     <path d="M 0 0 L 0 3 M 0 0 L 2.4 -1.5 M 0 0 L -2.4 -1.5 " transform="translate(385.61608 188.793586)" style="stroke: #000000; stroke-width: 1.12"/>
     <path d="M 0 0 L 0 3 M 0 0 L 2.4 -1.5 M 0 0 L -2.4 -1.5 " transform="translate(388.901106 181.216203)" style="stroke: #000000; stroke-width: 1.12"/>
     <path d="M 0 0 L 0 3 M 0 0 L 2.4 -1.5 M 0 0 L -2.4 -1.5 " transform="translate(392.186132 173.402275)" style="stroke: #000000; stroke-width: 1.12"/>
    </g>
   </g>
   <g id="line2d_31">
    <path d="M 66.968577 165.101664 
L 70.253603 133.9478 
L 73.538628 124.590111 
L 76.823654 119.01384 
L 80.10868 114.856135 
L 83.393706 111.958285 
L 86.678732 110.16158 
L 89.963757 109.307311 
L 93.248783 109.236768 
L 96.533809 109.791242 
L 99.818835 110.833919 
L 103.103861 112.315575 
L 106.388886 114.208884 
L 109.673912 116.486517 
L 112.958938 119.121148 
L 116.243964 122.085448 
L 119.52899 125.353121 
L 122.814016 128.901985 
L 126.099041 132.710892 
L 129.384067 136.75869 
L 132.669093 141.02423 
L 135.954119 145.48636 
L 139.239145 150.123931 
L 142.52417 154.915792 
L 145.809196 159.840793 
L 149.094222 164.877784 
L 152.379248 170.005613 
L 155.664274 175.203132 
L 158.949299 180.440574 
L 162.234325 185.653716 
L 165.519351 190.76972 
L 168.804377 195.715748 
L 172.089403 200.418961 
L 175.374428 204.80652 
L 178.659454 208.805588 
L 181.94448 212.343326 
L 185.229506 215.346895 
L 188.514532 217.743459 
L 191.799558 219.460177 
L 195.084583 220.424211 
L 198.369609 220.56097 
L 201.654635 219.788844 
L 204.939661 218.02447 
L 208.224687 215.184485 
L 211.509712 211.185524 
L 214.794738 205.944226 
L 218.079764 199.436022 
L 221.36479 191.871527 
L 224.649816 183.520154 
L 227.934841 174.651313 
L 231.219867 165.534417 
L 234.504893 156.438875 
L 237.789919 147.214031 
L 241.074945 138.731802 
L 244.359971 131.444037 
L 247.644996 125.600411 
L 250.930022 121.068667 
L 254.215048 117.229863 
L 257.500074 114.456739 
L 260.7851 112.678851 
L 264.070125 111.821648 
L 267.355151 111.810581 
L 270.640177 112.571101 
L 273.925203 114.028657 
L 277.210229 116.112365 
L 280.495254 118.766005 
L 283.78028 121.937022 
L 287.065306 125.572859 
L 290.350332 129.620961 
L 293.635358 134.028773 
L 296.920384 138.743739 
L 300.205409 143.713304 
L 303.490435 148.884913 
L 306.775461 154.20601 
L 310.060487 159.624039 
L 313.345513 165.086446 
L 316.630538 170.540017 
L 319.915564 175.92891 
L 323.20059 181.196626 
L 326.485616 186.286665 
L 329.770642 191.526616 
L 333.055667 196.091801 
L 336.340693 200.309811 
L 339.625719 204.124145 
L 342.910745 207.478303 
L 346.195771 210.315787 
L 349.480797 212.580096 
L 352.765822 214.21473 
L 356.050848 215.168078 
L 359.335874 215.408073 
L 362.6209 214.907536 
L 365.905926 213.639288 
L 369.190951 211.576151 
L 372.475977 208.690945 
L 375.761003 204.956493 
L 379.046029 200.345614 
L 382.331055 194.447042 
L 385.61608 188.001774 
L 388.901106 180.598544 
L 392.186132 172.210172 
" clip-path="url(#pef61b93e71)" style="fill: none; stroke-dasharray: 9.7,2.3,1.6,2.3; stroke-dashoffset: 0; stroke: #008000; stroke-width: 1.65"/>
   </g>
   <g id="line2d_32">
    <path d="M 66.968577 165.101664 
L 70.253603 43.40244 
L 73.538628 24.980407 
L 76.823654 17.725397 
L 80.10868 15.876081 
L 83.393706 17.36976 
L 86.678732 20.954588 
L 89.963757 26.545213 
L 93.248783 32.093161 
L 96.533809 38.628951 
L 99.818835 45.445542 
L 103.103861 52.547 
L 106.388886 59.82231 
L 109.673912 67.18064 
L 112.958938 74.611875 
L 116.243964 82.126082 
L 119.52899 89.733326 
L 122.814016 97.443674 
L 126.099041 105.26719 
L 129.384067 113.216228 
L 132.669093 121.312276 
L 135.954119 129.579113 
L 139.239145 138.040514 
L 142.52417 146.720256 
L 145.809196 155.642114 
L 149.094222 164.809947 
L 152.379248 174.147932 
L 155.664274 183.56033 
L 158.949299 192.951398 
L 162.234325 202.225398 
L 165.519351 211.286587 
L 168.804377 220.025759 
L 172.089403 228.279846 
L 175.374428 235.872313 
L 178.659454 242.626625 
L 181.94448 248.366247 
L 185.229506 252.914645 
L 188.514532 256.114357 
L 191.799558 257.88422 
L 195.084583 258.162142 
L 198.369609 256.886033 
L 201.654635 253.993802 
L 204.939661 249.423358 
L 208.224687 243.151081 
L 211.509712 235.307238 
L 214.794738 226.060563 
L 218.079764 215.579793 
L 221.36479 204.033664 
L 224.649816 191.590913 
L 227.934841 178.472849 
L 231.219867 165.111082 
L 234.504893 151.989793 
L 237.789919 139.568307 
L 241.074945 128.206517 
L 244.359971 118.193708 
L 247.644996 109.991804 
L 250.930022 102.992744 
L 254.215048 97.380948 
L 257.500074 93.224665 
L 260.7851 90.289264 
L 264.070125 88.724898 
L 267.355151 88.215063 
L 270.640177 88.927625 
L 273.925203 90.603678 
L 277.210229 93.453764 
L 280.495254 97.375459 
L 283.78028 102.071525 
L 287.065306 107.162497 
L 290.350332 113.06988 
L 293.635358 119.48968 
L 296.920384 126.388183 
L 300.205409 133.660551 
L 303.490435 141.3442 
L 306.775461 149.192036 
L 310.060487 157.09922 
L 313.345513 164.960912 
L 316.630538 172.672274 
L 319.915564 180.13494 
L 323.20059 187.27644 
L 326.485616 194.030778 
L 329.770642 200.474211 
L 333.055667 206.398489 
L 336.340693 211.737614 
L 339.625719 216.354463 
L 342.910745 219.969657 
L 346.195771 223.015091 
L 349.480797 225.16871 
L 352.765822 226.449871 
L 356.050848 226.749901 
L 359.335874 226.022934 
L 362.6209 224.34631 
L 365.905926 221.803274 
L 369.190951 218.462848 
L 372.475977 214.137991 
L 375.761003 208.954627 
L 379.046029 203.081353 
L 382.331055 196.558739 
L 385.61608 189.31355 
L 388.901106 181.557061 
L 392.186132 173.571675 
" clip-path="url(#pef61b93e71)" style="fill: none; stroke-dasharray: 5.65,2.3; stroke-dashoffset: 0; stroke: #0000ff; stroke-width: 1.65"/>
    
    <g clip-path="url(#pef61b93e71)">
     <path d="M 0 -3 L -0.673542 -0.927051 L -2.85317 -0.927051 L -1.089814 0.354102 L -1.763356 2.427051 L -0 1.145898 L 1.763356 2.427051 L 1.089814 0.354102 L 2.85317 -0.927051 L 0.673542 -0.927051 z" transform="translate(66.968577 165.101664)" style="fill: #0000ff; stroke: #0000ff; stroke-width: 1.12; stroke-linejoin: bevel"/>
     <path d="M 0 -3 L -0.673542 -0.927051 L -2.85317 -0.927051 L -1.089814 0.354102 L -1.763356 2.427051 L -0 1.145898 L 1.763356 2.427051 L 1.089814 0.354102 L 2.85317 -0.927051 L 0.673542 -0.927051 z" transform="translate(70.253603 43.40244)" style="fill: #0000ff; stroke: #0000ff; stroke-width: 1.12; stroke-linejoin: bevel"/>
     <path d="M 0 -3 L -0.673542 -0.927051 L -2.85317 -0.927051 L -1.089814 0.354102 L -1.763356 2.427051 L -0 1.145898 L 1.763356 2.427051 L 1.089814 0.354102 L 2.85317 -0.927051 L 0.673542 -0.927051 z" transform="translate(73.538628 24.980407)" style="fill: #0000ff; stroke: #0000ff; stroke-width: 1.12; stroke-linejoin: bevel"/>
     <path d="M 0 -3 L -0.673542 -0.927051 L -2.85317 -0.927051 L -1.089814 0.354102 L -1.763356 2.427051 L -0 1.145898 L 1.763356 2.427051 L 1.089814 0.354102 L 2.85317 -0.927051 L 0.673542 -0.927051 z" transform="translate(76.823654 17.725397)" style="fill: #0000ff; stroke: #0000ff; stroke-width: 1.12; stroke-linejoin: bevel"/>
     <path d="M 0 -3 L -0.673542 -0.927051 L -2.85317 -0.927051 L -1.089814 0.354102 L -1.763356 2.427051 L -0 1.145898 L 1.763356 2.427051 L 1.089814 0.354102 L 2.85317 -0.927051 L 0.673542 -0.927051 z" transform="translate(80.10868 15.876081)" style="fill: #0000ff; stroke: #0000ff; stroke-width: 1.12; stroke-linejoin: bevel"/>
     <path d="M 0 -3 L -0.673542 -0.927051 L -2.85317 -0.927051 L -1.089814 0.354102 L -1.763356 2.427051 L -0 1.145898 L 1.763356 2.427051 L 1.089814 0.354102 L 2.85317 -0.927051 L 0.673542 -0.927051 z" transform="translate(83.393706 17.36976)" style="fill: #0000ff; stroke: #0000ff; stroke-width: 1.12; stroke-linejoin: bevel"/>
     <path d="M 0 -3 L -0.673542 -0.927051 L -2.85317 -0.927051 L -1.089814 0.354102 L -1.763356 2.427051 L -0 1.145898 L 1.763356 2.427051 L 1.089814 0.354102 L 2.85317 -0.927051 L 0.673542 -0.927051 z" transform="translate(86.678732 20.954588)" style="fill: #0000ff; stroke: #0000ff; stroke-width: 1.12; stroke-linejoin: bevel"/>
     <path d="M 0 -3 L -0.673542 -0.927051 L -2.85317 -0.927051 L -1.089814 0.354102 L -1.763356 2.427051 L -0 1.145898 L 1.763356 2.427051 L 1.089814 0.354102 L 2.85317 -0.927051 L 0.673542 -0.927051 z" transform="translate(89.963757 26.545213)" style="fill: #0000ff; stroke: #0000ff; stroke-width: 1.12; stroke-linejoin: bevel"/>
     <path d="M 0 -3 L -0.673542 -0.927051 L -2.85317 -0.927051 L -1.089814 0.354102 L -1.763356 2.427051 L -0 1.145898 L 1.763356 2.427051 L 1.089814 0.354102 L 2.85317 -0.927051 L 0.673542 -0.927051 z" transform="translate(93.248783 32.093161)" style="fill: #0000ff; stroke: #0000ff; stroke-width: 1.12; stroke-linejoin: bevel"/>
     <path d="M 0 -3 L -0.673542 -0.927051 L -2.85317 -0.927051 L -1.089814 0.354102 L -1.763356 2.427051 L -0 1.145898 L 1.763356 2.427051 L 1.089814 0.354102 L 2.85317 -0.927051 L 0.673542 -0.927051 z" transform="translate(96.533809 38.628951)" style="fill: #0000ff; stroke: #0000ff; stroke-width: 1.12; stroke-linejoin: bevel"/>
     <path d="M 0 -3 L -0.673542 -0.927051 L -2.85317 -0.927051 L -1.089814 0.354102 L -1.763356 2.427051 L -0 1.145898 L 1.763356 2.427051 L 1.089814 0.354102 L 2.85317 -0.927051 L 0.673542 -0.927051 z" transform="translate(99.818835 45.445542)" style="fill: #0000ff; stroke: #0000ff; stroke-width: 1.12; stroke-linejoin: bevel"/>
     <path d="M 0 -3 L -0.673542 -0.927051 L -2.85317 -0.927051 L -1.089814 0.354102 L -1.763356 2.427051 L -0 1.145898 L 1.763356 2.427051 L 1.089814 0.354102 L 2.85317 -0.927051 L 0.673542 -0.927051 z" transform="translate(103.103861 52.547)" style="fill: #0000ff; stroke: #0000ff; stroke-width: 1.12; stroke-linejoin: bevel"/>
     <path d="M 0 -3 L -0.673542 -0.927051 L -2.85317 -0.927051 L -1.089814 0.354102 L -1.763356 2.427051 L -0 1.145898 L 1.763356 2.427051 L 1.089814 0.354102 L 2.85317 -0.927051 L 0.673542 -0.927051 z" transform="translate(106.388886 59.82231)" style="fill: #0000ff; stroke: #0000ff; stroke-width: 1.12; stroke-linejoin: bevel"/>
     <path d="M 0 -3 L -0.673542 -0.927051 L -2.85317 -0.927051 L -1.089814 0.354102 L -1.763356 2.427051 L -0 1.145898 L 1.763356 2.427051 L 1.089814 0.354102 L 2.85317 -0.927051 L 0.673542 -0.927051 z" transform="translate(109.673912 67.18064)" style="fill: #0000ff; stroke: #0000ff; stroke-width: 1.12; stroke-linejoin: bevel"/>
     <path d="M 0 -3 L -0.673542 -0.927051 L -2.85317 -0.927051 L -1.089814 0.354102 L -1.763356 2.427051 L -0 1.145898 L 1.763356 2.427051 L 1.089814 0.354102 L 2.85317 -0.927051 L 0.673542 -0.927051 z" transform="translate(112.958938 74.611875)" style="fill: #0000ff; stroke: #0000ff; stroke-width: 1.12; stroke-linejoin: bevel"/>
     <path d="M 0 -3 L -0.673542 -0.927051 L -2.85317 -0.927051 L -1.089814 0.354102 L -1.763356 2.427051 L -0 1.145898 L 1.763356 2.427051 L 1.089814 0.354102 L 2.85317 -0.927051 L 0.673542 -0.927051 z" transform="translate(116.243964 82.126082)" style="fill: #0000ff; stroke: #0000ff; stroke-width: 1.12; stroke-linejoin: bevel"/>
     <path d="M 0 -3 L -0.673542 -0.927051 L -2.85317 -0.927051 L -1.089814 0.354102 L -1.763356 2.427051 L -0 1.145898 L 1.763356 2.427051 L 1.089814 0.354102 L 2.85317 -0.927051 L 0.673542 -0.927051 z" transform="translate(119.52899 89.733326)" style="fill: #0000ff; stroke: #0000ff; stroke-width: 1.12; stroke-linejoin: bevel"/>
     <path d="M 0 -3 L -0.673542 -0.927051 L -2.85317 -0.927051 L -1.089814 0.354102 L -1.763356 2.427051 L -0 1.145898 L 1.763356 2.427051 L 1.089814 0.354102 L 2.85317 -0.927051 L 0.673542 -0.927051 z" transform="translate(122.814016 97.443674)" style="fill: #0000ff; stroke: #0000ff; stroke-width: 1.12; stroke-linejoin: bevel"/>
     <path d="M 0 -3 L -0.673542 -0.927051 L -2.85317 -0.927051 L -1.089814 0.354102 L -1.763356 2.427051 L -0 1.145898 L 1.763356 2.427051 L 1.089814 0.354102 L 2.85317 -0.927051 L 0.673542 -0.927051 z" transform="translate(126.099041 105.26719)" style="fill: #0000ff; stroke: #0000ff; stroke-width: 1.12; stroke-linejoin: bevel"/>
     <path d="M 0 -3 L -0.673542 -0.927051 L -2.85317 -0.927051 L -1.089814 0.354102 L -1.763356 2.427051 L -0 1.145898 L 1.763356 2.427051 L 1.089814 0.354102 L 2.85317 -0.927051 L 0.673542 -0.927051 z" transform="translate(129.384067 113.216228)" style="fill: #0000ff; stroke: #0000ff; stroke-width: 1.12; stroke-linejoin: bevel"/>
     <path d="M 0 -3 L -0.673542 -0.927051 L -2.85317 -0.927051 L -1.089814 0.354102 L -1.763356 2.427051 L -0 1.145898 L 1.763356 2.427051 L 1.089814 0.354102 L 2.85317 -0.927051 L 0.673542 -0.927051 z" transform="translate(132.669093 121.312276)" style="fill: #0000ff; stroke: #0000ff; stroke-width: 1.12; stroke-linejoin: bevel"/>
     <path d="M 0 -3 L -0.673542 -0.927051 L -2.85317 -0.927051 L -1.089814 0.354102 L -1.763356 2.427051 L -0 1.145898 L 1.763356 2.427051 L 1.089814 0.354102 L 2.85317 -0.927051 L 0.673542 -0.927051 z" transform="translate(135.954119 129.579113)" style="fill: #0000ff; stroke: #0000ff; stroke-width: 1.12; stroke-linejoin: bevel"/>
     <path d="M 0 -3 L -0.673542 -0.927051 L -2.85317 -0.927051 L -1.089814 0.354102 L -1.763356 2.427051 L -0 1.145898 L 1.763356 2.427051 L 1.089814 0.354102 L 2.85317 -0.927051 L 0.673542 -0.927051 z" transform="translate(139.239145 138.040514)" style="fill: #0000ff; stroke: #0000ff; stroke-width: 1.12; stroke-linejoin: bevel"/>
     <path d="M 0 -3 L -0.673542 -0.927051 L -2.85317 -0.927051 L -1.089814 0.354102 L -1.763356 2.427051 L -0 1.145898 L 1.763356 2.427051 L 1.089814 0.354102 L 2.85317 -0.927051 L 0.673542 -0.927051 z" transform="translate(142.52417 146.720256)" style="fill: #0000ff; stroke: #0000ff; stroke-width: 1.12; stroke-linejoin: bevel"/>
     <path d="M 0 -3 L -0.673542 -0.927051 L -2.85317 -0.927051 L -1.089814 0.354102 L -1.763356 2.427051 L -0 1.145898 L 1.763356 2.427051 L 1.089814 0.354102 L 2.85317 -0.927051 L 0.673542 -0.927051 z" transform="translate(145.809196 155.642114)" style="fill: #0000ff; stroke: #0000ff; stroke-width: 1.12; stroke-linejoin: bevel"/>
     <path d="M 0 -3 L -0.673542 -0.927051 L -2.85317 -0.927051 L -1.089814 0.354102 L -1.763356 2.427051 L -0 1.145898 L 1.763356 2.427051 L 1.089814 0.354102 L 2.85317 -0.927051 L 0.673542 -0.927051 z" transform="translate(149.094222 164.809947)" style="fill: #0000ff; stroke: #0000ff; stroke-width: 1.12; stroke-linejoin: bevel"/>
     <path d="M 0 -3 L -0.673542 -0.927051 L -2.85317 -0.927051 L -1.089814 0.354102 L -1.763356 2.427051 L -0 1.145898 L 1.763356 2.427051 L 1.089814 0.354102 L 2.85317 -0.927051 L 0.673542 -0.927051 z" transform="translate(152.379248 174.147932)" style="fill: #0000ff; stroke: #0000ff; stroke-width: 1.12; stroke-linejoin: bevel"/>
     <path d="M 0 -3 L -0.673542 -0.927051 L -2.85317 -0.927051 L -1.089814 0.354102 L -1.763356 2.427051 L -0 1.145898 L 1.763356 2.427051 L 1.089814 0.354102 L 2.85317 -0.927051 L 0.673542 -0.927051 z" transform="translate(155.664274 183.56033)" style="fill: #0000ff; stroke: #0000ff; stroke-width: 1.12; stroke-linejoin: bevel"/>
     <path d="M 0 -3 L -0.673542 -0.927051 L -2.85317 -0.927051 L -1.089814 0.354102 L -1.763356 2.427051 L -0 1.145898 L 1.763356 2.427051 L 1.089814 0.354102 L 2.85317 -0.927051 L 0.673542 -0.927051 z" transform="translate(158.949299 192.951398)" style="fill: #0000ff; stroke: #0000ff; stroke-width: 1.12; stroke-linejoin: bevel"/>
     <path d="M 0 -3 L -0.673542 -0.927051 L -2.85317 -0.927051 L -1.089814 0.354102 L -1.763356 2.427051 L -0 1.145898 L 1.763356 2.427051 L 1.089814 0.354102 L 2.85317 -0.927051 L 0.673542 -0.927051 z" transform="translate(162.234325 202.225398)" style="fill: #0000ff; stroke: #0000ff; stroke-width: 1.12; stroke-linejoin: bevel"/>
     <path d="M 0 -3 L -0.673542 -0.927051 L -2.85317 -0.927051 L -1.089814 0.354102 L -1.763356 2.427051 L -0 1.145898 L 1.763356 2.427051 L 1.089814 0.354102 L 2.85317 -0.927051 L 0.673542 -0.927051 z" transform="translate(165.519351 211.286587)" style="fill: #0000ff; stroke: #0000ff; stroke-width: 1.12; stroke-linejoin: bevel"/>
     <path d="M 0 -3 L -0.673542 -0.927051 L -2.85317 -0.927051 L -1.089814 0.354102 L -1.763356 2.427051 L -0 1.145898 L 1.763356 2.427051 L 1.089814 0.354102 L 2.85317 -0.927051 L 0.673542 -0.927051 z" transform="translate(168.804377 220.025759)" style="fill: #0000ff; stroke: #0000ff; stroke-width: 1.12; stroke-linejoin: bevel"/>
     <path d="M 0 -3 L -0.673542 -0.927051 L -2.85317 -0.927051 L -1.089814 0.354102 L -1.763356 2.427051 L -0 1.145898 L 1.763356 2.427051 L 1.089814 0.354102 L 2.85317 -0.927051 L 0.673542 -0.927051 z" transform="translate(172.089403 228.279846)" style="fill: #0000ff; stroke: #0000ff; stroke-width: 1.12; stroke-linejoin: bevel"/>
     <path d="M 0 -3 L -0.673542 -0.927051 L -2.85317 -0.927051 L -1.089814 0.354102 L -1.763356 2.427051 L -0 1.145898 L 1.763356 2.427051 L 1.089814 0.354102 L 2.85317 -0.927051 L 0.673542 -0.927051 z" transform="translate(175.374428 235.872313)" style="fill: #0000ff; stroke: #0000ff; stroke-width: 1.12; stroke-linejoin: bevel"/>
     <path d="M 0 -3 L -0.673542 -0.927051 L -2.85317 -0.927051 L -1.089814 0.354102 L -1.763356 2.427051 L -0 1.145898 L 1.763356 2.427051 L 1.089814 0.354102 L 2.85317 -0.927051 L 0.673542 -0.927051 z" transform="translate(178.659454 242.626625)" style="fill: #0000ff; stroke: #0000ff; stroke-width: 1.12; stroke-linejoin: bevel"/>
     <path d="M 0 -3 L -0.673542 -0.927051 L -2.85317 -0.927051 L -1.089814 0.354102 L -1.763356 2.427051 L -0 1.145898 L 1.763356 2.427051 L 1.089814 0.354102 L 2.85317 -0.927051 L 0.673542 -0.927051 z" transform="translate(181.94448 248.366247)" style="fill: #0000ff; stroke: #0000ff; stroke-width: 1.12; stroke-linejoin: bevel"/>
     <path d="M 0 -3 L -0.673542 -0.927051 L -2.85317 -0.927051 L -1.089814 0.354102 L -1.763356 2.427051 L -0 1.145898 L 1.763356 2.427051 L 1.089814 0.354102 L 2.85317 -0.927051 L 0.673542 -0.927051 z" transform="translate(185.229506 252.914645)" style="fill: #0000ff; stroke: #0000ff; stroke-width: 1.12; stroke-linejoin: bevel"/>
     <path d="M 0 -3 L -0.673542 -0.927051 L -2.85317 -0.927051 L -1.089814 0.354102 L -1.763356 2.427051 L -0 1.145898 L 1.763356 2.427051 L 1.089814 0.354102 L 2.85317 -0.927051 L 0.673542 -0.927051 z" transform="translate(188.514532 256.114357)" style="fill: #0000ff; stroke: #0000ff; stroke-width: 1.12; stroke-linejoin: bevel"/>
     <path d="M 0 -3 L -0.673542 -0.927051 L -2.85317 -0.927051 L -1.089814 0.354102 L -1.763356 2.427051 L -0 1.145898 L 1.763356 2.427051 L 1.089814 0.354102 L 2.85317 -0.927051 L 0.673542 -0.927051 z" transform="translate(191.799558 257.88422)" style="fill: #0000ff; stroke: #0000ff; stroke-width: 1.12; stroke-linejoin: bevel"/>
     <path d="M 0 -3 L -0.673542 -0.927051 L -2.85317 -0.927051 L -1.089814 0.354102 L -1.763356 2.427051 L -0 1.145898 L 1.763356 2.427051 L 1.089814 0.354102 L 2.85317 -0.927051 L 0.673542 -0.927051 z" transform="translate(195.084583 258.162142)" style="fill: #0000ff; stroke: #0000ff; stroke-width: 1.12; stroke-linejoin: bevel"/>
     <path d="M 0 -3 L -0.673542 -0.927051 L -2.85317 -0.927051 L -1.089814 0.354102 L -1.763356 2.427051 L -0 1.145898 L 1.763356 2.427051 L 1.089814 0.354102 L 2.85317 -0.927051 L 0.673542 -0.927051 z" transform="translate(198.369609 256.886033)" style="fill: #0000ff; stroke: #0000ff; stroke-width: 1.12; stroke-linejoin: bevel"/>
     <path d="M 0 -3 L -0.673542 -0.927051 L -2.85317 -0.927051 L -1.089814 0.354102 L -1.763356 2.427051 L -0 1.145898 L 1.763356 2.427051 L 1.089814 0.354102 L 2.85317 -0.927051 L 0.673542 -0.927051 z" transform="translate(201.654635 253.993802)" style="fill: #0000ff; stroke: #0000ff; stroke-width: 1.12; stroke-linejoin: bevel"/>
     <path d="M 0 -3 L -0.673542 -0.927051 L -2.85317 -0.927051 L -1.089814 0.354102 L -1.763356 2.427051 L -0 1.145898 L 1.763356 2.427051 L 1.089814 0.354102 L 2.85317 -0.927051 L 0.673542 -0.927051 z" transform="translate(204.939661 249.423358)" style="fill: #0000ff; stroke: #0000ff; stroke-width: 1.12; stroke-linejoin: bevel"/>
     <path d="M 0 -3 L -0.673542 -0.927051 L -2.85317 -0.927051 L -1.089814 0.354102 L -1.763356 2.427051 L -0 1.145898 L 1.763356 2.427051 L 1.089814 0.354102 L 2.85317 -0.927051 L 0.673542 -0.927051 z" transform="translate(208.224687 243.151081)" style="fill: #0000ff; stroke: #0000ff; stroke-width: 1.12; stroke-linejoin: bevel"/>
     <path d="M 0 -3 L -0.673542 -0.927051 L -2.85317 -0.927051 L -1.089814 0.354102 L -1.763356 2.427051 L -0 1.145898 L 1.763356 2.427051 L 1.089814 0.354102 L 2.85317 -0.927051 L 0.673542 -0.927051 z" transform="translate(211.509712 235.307238)" style="fill: #0000ff; stroke: #0000ff; stroke-width: 1.12; stroke-linejoin: bevel"/>
     <path d="M 0 -3 L -0.673542 -0.927051 L -2.85317 -0.927051 L -1.089814 0.354102 L -1.763356 2.427051 L -0 1.145898 L 1.763356 2.427051 L 1.089814 0.354102 L 2.85317 -0.927051 L 0.673542 -0.927051 z" transform="translate(214.794738 226.060563)" style="fill: #0000ff; stroke: #0000ff; stroke-width: 1.12; stroke-linejoin: bevel"/>
     <path d="M 0 -3 L -0.673542 -0.927051 L -2.85317 -0.927051 L -1.089814 0.354102 L -1.763356 2.427051 L -0 1.145898 L 1.763356 2.427051 L 1.089814 0.354102 L 2.85317 -0.927051 L 0.673542 -0.927051 z" transform="translate(218.079764 215.579793)" style="fill: #0000ff; stroke: #0000ff; stroke-width: 1.12; stroke-linejoin: bevel"/>
     <path d="M 0 -3 L -0.673542 -0.927051 L -2.85317 -0.927051 L -1.089814 0.354102 L -1.763356 2.427051 L -0 1.145898 L 1.763356 2.427051 L 1.089814 0.354102 L 2.85317 -0.927051 L 0.673542 -0.927051 z" transform="translate(221.36479 204.033664)" style="fill: #0000ff; stroke: #0000ff; stroke-width: 1.12; stroke-linejoin: bevel"/>
     <path d="M 0 -3 L -0.673542 -0.927051 L -2.85317 -0.927051 L -1.089814 0.354102 L -1.763356 2.427051 L -0 1.145898 L 1.763356 2.427051 L 1.089814 0.354102 L 2.85317 -0.927051 L 0.673542 -0.927051 z" transform="translate(224.649816 191.590913)" style="fill: #0000ff; stroke: #0000ff; stroke-width: 1.12; stroke-linejoin: bevel"/>
     <path d="M 0 -3 L -0.673542 -0.927051 L -2.85317 -0.927051 L -1.089814 0.354102 L -1.763356 2.427051 L -0 1.145898 L 1.763356 2.427051 L 1.089814 0.354102 L 2.85317 -0.927051 L 0.673542 -0.927051 z" transform="translate(227.934841 178.472849)" style="fill: #0000ff; stroke: #0000ff; stroke-width: 1.12; stroke-linejoin: bevel"/>
     <path d="M 0 -3 L -0.673542 -0.927051 L -2.85317 -0.927051 L -1.089814 0.354102 L -1.763356 2.427051 L -0 1.145898 L 1.763356 2.427051 L 1.089814 0.354102 L 2.85317 -0.927051 L 0.673542 -0.927051 z" transform="translate(231.219867 165.111082)" style="fill: #0000ff; stroke: #0000ff; stroke-width: 1.12; stroke-linejoin: bevel"/>
     <path d="M 0 -3 L -0.673542 -0.927051 L -2.85317 -0.927051 L -1.089814 0.354102 L -1.763356 2.427051 L -0 1.145898 L 1.763356 2.427051 L 1.089814 0.354102 L 2.85317 -0.927051 L 0.673542 -0.927051 z" transform="translate(234.504893 151.989793)" style="fill: #0000ff; stroke: #0000ff; stroke-width: 1.12; stroke-linejoin: bevel"/>
     <path d="M 0 -3 L -0.673542 -0.927051 L -2.85317 -0.927051 L -1.089814 0.354102 L -1.763356 2.427051 L -0 1.145898 L 1.763356 2.427051 L 1.089814 0.354102 L 2.85317 -0.927051 L 0.673542 -0.927051 z" transform="translate(237.789919 139.568307)" style="fill: #0000ff; stroke: #0000ff; stroke-width: 1.12; stroke-linejoin: bevel"/>
     <path d="M 0 -3 L -0.673542 -0.927051 L -2.85317 -0.927051 L -1.089814 0.354102 L -1.763356 2.427051 L -0 1.145898 L 1.763356 2.427051 L 1.089814 0.354102 L 2.85317 -0.927051 L 0.673542 -0.927051 z" transform="translate(241.074945 128.206517)" style="fill: #0000ff; stroke: #0000ff; stroke-width: 1.12; stroke-linejoin: bevel"/>
     <path d="M 0 -3 L -0.673542 -0.927051 L -2.85317 -0.927051 L -1.089814 0.354102 L -1.763356 2.427051 L -0 1.145898 L 1.763356 2.427051 L 1.089814 0.354102 L 2.85317 -0.927051 L 0.673542 -0.927051 z" transform="translate(244.359971 118.193708)" style="fill: #0000ff; stroke: #0000ff; stroke-width: 1.12; stroke-linejoin: bevel"/>
     <path d="M 0 -3 L -0.673542 -0.927051 L -2.85317 -0.927051 L -1.089814 0.354102 L -1.763356 2.427051 L -0 1.145898 L 1.763356 2.427051 L 1.089814 0.354102 L 2.85317 -0.927051 L 0.673542 -0.927051 z" transform="translate(247.644996 109.991804)" style="fill: #0000ff; stroke: #0000ff; stroke-width: 1.12; stroke-linejoin: bevel"/>
     <path d="M 0 -3 L -0.673542 -0.927051 L -2.85317 -0.927051 L -1.089814 0.354102 L -1.763356 2.427051 L -0 1.145898 L 1.763356 2.427051 L 1.089814 0.354102 L 2.85317 -0.927051 L 0.673542 -0.927051 z" transform="translate(250.930022 102.992744)" style="fill: #0000ff; stroke: #0000ff; stroke-width: 1.12; stroke-linejoin: bevel"/>
     <path d="M 0 -3 L -0.673542 -0.927051 L -2.85317 -0.927051 L -1.089814 0.354102 L -1.763356 2.427051 L -0 1.145898 L 1.763356 2.427051 L 1.089814 0.354102 L 2.85317 -0.927051 L 0.673542 -0.927051 z" transform="translate(254.215048 97.380948)" style="fill: #0000ff; stroke: #0000ff; stroke-width: 1.12; stroke-linejoin: bevel"/>
     <path d="M 0 -3 L -0.673542 -0.927051 L -2.85317 -0.927051 L -1.089814 0.354102 L -1.763356 2.427051 L -0 1.145898 L 1.763356 2.427051 L 1.089814 0.354102 L 2.85317 -0.927051 L 0.673542 -0.927051 z" transform="translate(257.500074 93.224665)" style="fill: #0000ff; stroke: #0000ff; stroke-width: 1.12; stroke-linejoin: bevel"/>
     <path d="M 0 -3 L -0.673542 -0.927051 L -2.85317 -0.927051 L -1.089814 0.354102 L -1.763356 2.427051 L -0 1.145898 L 1.763356 2.427051 L 1.089814 0.354102 L 2.85317 -0.927051 L 0.673542 -0.927051 z" transform="translate(260.7851 90.289264)" style="fill: #0000ff; stroke: #0000ff; stroke-width: 1.12; stroke-linejoin: bevel"/>
     <path d="M 0 -3 L -0.673542 -0.927051 L -2.85317 -0.927051 L -1.089814 0.354102 L -1.763356 2.427051 L -0 1.145898 L 1.763356 2.427051 L 1.089814 0.354102 L 2.85317 -0.927051 L 0.673542 -0.927051 z" transform="translate(264.070125 88.724898)" style="fill: #0000ff; stroke: #0000ff; stroke-width: 1.12; stroke-linejoin: bevel"/>
     <path d="M 0 -3 L -0.673542 -0.927051 L -2.85317 -0.927051 L -1.089814 0.354102 L -1.763356 2.427051 L -0 1.145898 L 1.763356 2.427051 L 1.089814 0.354102 L 2.85317 -0.927051 L 0.673542 -0.927051 z" transform="translate(267.355151 88.215063)" style="fill: #0000ff; stroke: #0000ff; stroke-width: 1.12; stroke-linejoin: bevel"/>
     <path d="M 0 -3 L -0.673542 -0.927051 L -2.85317 -0.927051 L -1.089814 0.354102 L -1.763356 2.427051 L -0 1.145898 L 1.763356 2.427051 L 1.089814 0.354102 L 2.85317 -0.927051 L 0.673542 -0.927051 z" transform="translate(270.640177 88.927625)" style="fill: #0000ff; stroke: #0000ff; stroke-width: 1.12; stroke-linejoin: bevel"/>
     <path d="M 0 -3 L -0.673542 -0.927051 L -2.85317 -0.927051 L -1.089814 0.354102 L -1.763356 2.427051 L -0 1.145898 L 1.763356 2.427051 L 1.089814 0.354102 L 2.85317 -0.927051 L 0.673542 -0.927051 z" transform="translate(273.925203 90.603678)" style="fill: #0000ff; stroke: #0000ff; stroke-width: 1.12; stroke-linejoin: bevel"/>
     <path d="M 0 -3 L -0.673542 -0.927051 L -2.85317 -0.927051 L -1.089814 0.354102 L -1.763356 2.427051 L -0 1.145898 L 1.763356 2.427051 L 1.089814 0.354102 L 2.85317 -0.927051 L 0.673542 -0.927051 z" transform="translate(277.210229 93.453764)" style="fill: #0000ff; stroke: #0000ff; stroke-width: 1.12; stroke-linejoin: bevel"/>
     <path d="M 0 -3 L -0.673542 -0.927051 L -2.85317 -0.927051 L -1.089814 0.354102 L -1.763356 2.427051 L -0 1.145898 L 1.763356 2.427051 L 1.089814 0.354102 L 2.85317 -0.927051 L 0.673542 -0.927051 z" transform="translate(280.495254 97.375459)" style="fill: #0000ff; stroke: #0000ff; stroke-width: 1.12; stroke-linejoin: bevel"/>
     <path d="M 0 -3 L -0.673542 -0.927051 L -2.85317 -0.927051 L -1.089814 0.354102 L -1.763356 2.427051 L -0 1.145898 L 1.763356 2.427051 L 1.089814 0.354102 L 2.85317 -0.927051 L 0.673542 -0.927051 z" transform="translate(283.78028 102.071525)" style="fill: #0000ff; stroke: #0000ff; stroke-width: 1.12; stroke-linejoin: bevel"/>
     <path d="M 0 -3 L -0.673542 -0.927051 L -2.85317 -0.927051 L -1.089814 0.354102 L -1.763356 2.427051 L -0 1.145898 L 1.763356 2.427051 L 1.089814 0.354102 L 2.85317 -0.927051 L 0.673542 -0.927051 z" transform="translate(287.065306 107.162497)" style="fill: #0000ff; stroke: #0000ff; stroke-width: 1.12; stroke-linejoin: bevel"/>
     <path d="M 0 -3 L -0.673542 -0.927051 L -2.85317 -0.927051 L -1.089814 0.354102 L -1.763356 2.427051 L -0 1.145898 L 1.763356 2.427051 L 1.089814 0.354102 L 2.85317 -0.927051 L 0.673542 -0.927051 z" transform="translate(290.350332 113.06988)" style="fill: #0000ff; stroke: #0000ff; stroke-width: 1.12; stroke-linejoin: bevel"/>
     <path d="M 0 -3 L -0.673542 -0.927051 L -2.85317 -0.927051 L -1.089814 0.354102 L -1.763356 2.427051 L -0 1.145898 L 1.763356 2.427051 L 1.089814 0.354102 L 2.85317 -0.927051 L 0.673542 -0.927051 z" transform="translate(293.635358 119.48968)" style="fill: #0000ff; stroke: #0000ff; stroke-width: 1.12; stroke-linejoin: bevel"/>
     <path d="M 0 -3 L -0.673542 -0.927051 L -2.85317 -0.927051 L -1.089814 0.354102 L -1.763356 2.427051 L -0 1.145898 L 1.763356 2.427051 L 1.089814 0.354102 L 2.85317 -0.927051 L 0.673542 -0.927051 z" transform="translate(296.920384 126.388183)" style="fill: #0000ff; stroke: #0000ff; stroke-width: 1.12; stroke-linejoin: bevel"/>
     <path d="M 0 -3 L -0.673542 -0.927051 L -2.85317 -0.927051 L -1.089814 0.354102 L -1.763356 2.427051 L -0 1.145898 L 1.763356 2.427051 L 1.089814 0.354102 L 2.85317 -0.927051 L 0.673542 -0.927051 z" transform="translate(300.205409 133.660551)" style="fill: #0000ff; stroke: #0000ff; stroke-width: 1.12; stroke-linejoin: bevel"/>
     <path d="M 0 -3 L -0.673542 -0.927051 L -2.85317 -0.927051 L -1.089814 0.354102 L -1.763356 2.427051 L -0 1.145898 L 1.763356 2.427051 L 1.089814 0.354102 L 2.85317 -0.927051 L 0.673542 -0.927051 z" transform="translate(303.490435 141.3442)" style="fill: #0000ff; stroke: #0000ff; stroke-width: 1.12; stroke-linejoin: bevel"/>
     <path d="M 0 -3 L -0.673542 -0.927051 L -2.85317 -0.927051 L -1.089814 0.354102 L -1.763356 2.427051 L -0 1.145898 L 1.763356 2.427051 L 1.089814 0.354102 L 2.85317 -0.927051 L 0.673542 -0.927051 z" transform="translate(306.775461 149.192036)" style="fill: #0000ff; stroke: #0000ff; stroke-width: 1.12; stroke-linejoin: bevel"/>
     <path d="M 0 -3 L -0.673542 -0.927051 L -2.85317 -0.927051 L -1.089814 0.354102 L -1.763356 2.427051 L -0 1.145898 L 1.763356 2.427051 L 1.089814 0.354102 L 2.85317 -0.927051 L 0.673542 -0.927051 z" transform="translate(310.060487 157.09922)" style="fill: #0000ff; stroke: #0000ff; stroke-width: 1.12; stroke-linejoin: bevel"/>
     <path d="M 0 -3 L -0.673542 -0.927051 L -2.85317 -0.927051 L -1.089814 0.354102 L -1.763356 2.427051 L -0 1.145898 L 1.763356 2.427051 L 1.089814 0.354102 L 2.85317 -0.927051 L 0.673542 -0.927051 z" transform="translate(313.345513 164.960912)" style="fill: #0000ff; stroke: #0000ff; stroke-width: 1.12; stroke-linejoin: bevel"/>
     <path d="M 0 -3 L -0.673542 -0.927051 L -2.85317 -0.927051 L -1.089814 0.354102 L -1.763356 2.427051 L -0 1.145898 L 1.763356 2.427051 L 1.089814 0.354102 L 2.85317 -0.927051 L 0.673542 -0.927051 z" transform="translate(316.630538 172.672274)" style="fill: #0000ff; stroke: #0000ff; stroke-width: 1.12; stroke-linejoin: bevel"/>
     <path d="M 0 -3 L -0.673542 -0.927051 L -2.85317 -0.927051 L -1.089814 0.354102 L -1.763356 2.427051 L -0 1.145898 L 1.763356 2.427051 L 1.089814 0.354102 L 2.85317 -0.927051 L 0.673542 -0.927051 z" transform="translate(319.915564 180.13494)" style="fill: #0000ff; stroke: #0000ff; stroke-width: 1.12; stroke-linejoin: bevel"/>
     <path d="M 0 -3 L -0.673542 -0.927051 L -2.85317 -0.927051 L -1.089814 0.354102 L -1.763356 2.427051 L -0 1.145898 L 1.763356 2.427051 L 1.089814 0.354102 L 2.85317 -0.927051 L 0.673542 -0.927051 z" transform="translate(323.20059 187.27644)" style="fill: #0000ff; stroke: #0000ff; stroke-width: 1.12; stroke-linejoin: bevel"/>
     <path d="M 0 -3 L -0.673542 -0.927051 L -2.85317 -0.927051 L -1.089814 0.354102 L -1.763356 2.427051 L -0 1.145898 L 1.763356 2.427051 L 1.089814 0.354102 L 2.85317 -0.927051 L 0.673542 -0.927051 z" transform="translate(326.485616 194.030778)" style="fill: #0000ff; stroke: #0000ff; stroke-width: 1.12; stroke-linejoin: bevel"/>
     <path d="M 0 -3 L -0.673542 -0.927051 L -2.85317 -0.927051 L -1.089814 0.354102 L -1.763356 2.427051 L -0 1.145898 L 1.763356 2.427051 L 1.089814 0.354102 L 2.85317 -0.927051 L 0.673542 -0.927051 z" transform="translate(329.770642 200.474211)" style="fill: #0000ff; stroke: #0000ff; stroke-width: 1.12; stroke-linejoin: bevel"/>
     <path d="M 0 -3 L -0.673542 -0.927051 L -2.85317 -0.927051 L -1.089814 0.354102 L -1.763356 2.427051 L -0 1.145898 L 1.763356 2.427051 L 1.089814 0.354102 L 2.85317 -0.927051 L 0.673542 -0.927051 z" transform="translate(333.055667 206.398489)" style="fill: #0000ff; stroke: #0000ff; stroke-width: 1.12; stroke-linejoin: bevel"/>
     <path d="M 0 -3 L -0.673542 -0.927051 L -2.85317 -0.927051 L -1.089814 0.354102 L -1.763356 2.427051 L -0 1.145898 L 1.763356 2.427051 L 1.089814 0.354102 L 2.85317 -0.927051 L 0.673542 -0.927051 z" transform="translate(336.340693 211.737614)" style="fill: #0000ff; stroke: #0000ff; stroke-width: 1.12; stroke-linejoin: bevel"/>
     <path d="M 0 -3 L -0.673542 -0.927051 L -2.85317 -0.927051 L -1.089814 0.354102 L -1.763356 2.427051 L -0 1.145898 L 1.763356 2.427051 L 1.089814 0.354102 L 2.85317 -0.927051 L 0.673542 -0.927051 z" transform="translate(339.625719 216.354463)" style="fill: #0000ff; stroke: #0000ff; stroke-width: 1.12; stroke-linejoin: bevel"/>
     <path d="M 0 -3 L -0.673542 -0.927051 L -2.85317 -0.927051 L -1.089814 0.354102 L -1.763356 2.427051 L -0 1.145898 L 1.763356 2.427051 L 1.089814 0.354102 L 2.85317 -0.927051 L 0.673542 -0.927051 z" transform="translate(342.910745 219.969657)" style="fill: #0000ff; stroke: #0000ff; stroke-width: 1.12; stroke-linejoin: bevel"/>
     <path d="M 0 -3 L -0.673542 -0.927051 L -2.85317 -0.927051 L -1.089814 0.354102 L -1.763356 2.427051 L -0 1.145898 L 1.763356 2.427051 L 1.089814 0.354102 L 2.85317 -0.927051 L 0.673542 -0.927051 z" transform="translate(346.195771 223.015091)" style="fill: #0000ff; stroke: #0000ff; stroke-width: 1.12; stroke-linejoin: bevel"/>
     <path d="M 0 -3 L -0.673542 -0.927051 L -2.85317 -0.927051 L -1.089814 0.354102 L -1.763356 2.427051 L -0 1.145898 L 1.763356 2.427051 L 1.089814 0.354102 L 2.85317 -0.927051 L 0.673542 -0.927051 z" transform="translate(349.480797 225.16871)" style="fill: #0000ff; stroke: #0000ff; stroke-width: 1.12; stroke-linejoin: bevel"/>
     <path d="M 0 -3 L -0.673542 -0.927051 L -2.85317 -0.927051 L -1.089814 0.354102 L -1.763356 2.427051 L -0 1.145898 L 1.763356 2.427051 L 1.089814 0.354102 L 2.85317 -0.927051 L 0.673542 -0.927051 z" transform="translate(352.765822 226.449871)" style="fill: #0000ff; stroke: #0000ff; stroke-width: 1.12; stroke-linejoin: bevel"/>
     <path d="M 0 -3 L -0.673542 -0.927051 L -2.85317 -0.927051 L -1.089814 0.354102 L -1.763356 2.427051 L -0 1.145898 L 1.763356 2.427051 L 1.089814 0.354102 L 2.85317 -0.927051 L 0.673542 -0.927051 z" transform="translate(356.050848 226.749901)" style="fill: #0000ff; stroke: #0000ff; stroke-width: 1.12; stroke-linejoin: bevel"/>
     <path d="M 0 -3 L -0.673542 -0.927051 L -2.85317 -0.927051 L -1.089814 0.354102 L -1.763356 2.427051 L -0 1.145898 L 1.763356 2.427051 L 1.089814 0.354102 L 2.85317 -0.927051 L 0.673542 -0.927051 z" transform="translate(359.335874 226.022934)" style="fill: #0000ff; stroke: #0000ff; stroke-width: 1.12; stroke-linejoin: bevel"/>
     <path d="M 0 -3 L -0.673542 -0.927051 L -2.85317 -0.927051 L -1.089814 0.354102 L -1.763356 2.427051 L -0 1.145898 L 1.763356 2.427051 L 1.089814 0.354102 L 2.85317 -0.927051 L 0.673542 -0.927051 z" transform="translate(362.6209 224.34631)" style="fill: #0000ff; stroke: #0000ff; stroke-width: 1.12; stroke-linejoin: bevel"/>
     <path d="M 0 -3 L -0.673542 -0.927051 L -2.85317 -0.927051 L -1.089814 0.354102 L -1.763356 2.427051 L -0 1.145898 L 1.763356 2.427051 L 1.089814 0.354102 L 2.85317 -0.927051 L 0.673542 -0.927051 z" transform="translate(365.905926 221.803274)" style="fill: #0000ff; stroke: #0000ff; stroke-width: 1.12; stroke-linejoin: bevel"/>
     <path d="M 0 -3 L -0.673542 -0.927051 L -2.85317 -0.927051 L -1.089814 0.354102 L -1.763356 2.427051 L -0 1.145898 L 1.763356 2.427051 L 1.089814 0.354102 L 2.85317 -0.927051 L 0.673542 -0.927051 z" transform="translate(369.190951 218.462848)" style="fill: #0000ff; stroke: #0000ff; stroke-width: 1.12; stroke-linejoin: bevel"/>
     <path d="M 0 -3 L -0.673542 -0.927051 L -2.85317 -0.927051 L -1.089814 0.354102 L -1.763356 2.427051 L -0 1.145898 L 1.763356 2.427051 L 1.089814 0.354102 L 2.85317 -0.927051 L 0.673542 -0.927051 z" transform="translate(372.475977 214.137991)" style="fill: #0000ff; stroke: #0000ff; stroke-width: 1.12; stroke-linejoin: bevel"/>
     <path d="M 0 -3 L -0.673542 -0.927051 L -2.85317 -0.927051 L -1.089814 0.354102 L -1.763356 2.427051 L -0 1.145898 L 1.763356 2.427051 L 1.089814 0.354102 L 2.85317 -0.927051 L 0.673542 -0.927051 z" transform="translate(375.761003 208.954627)" style="fill: #0000ff; stroke: #0000ff; stroke-width: 1.12; stroke-linejoin: bevel"/>
     <path d="M 0 -3 L -0.673542 -0.927051 L -2.85317 -0.927051 L -1.089814 0.354102 L -1.763356 2.427051 L -0 1.145898 L 1.763356 2.427051 L 1.089814 0.354102 L 2.85317 -0.927051 L 0.673542 -0.927051 z" transform="translate(379.046029 203.081353)" style="fill: #0000ff; stroke: #0000ff; stroke-width: 1.12; stroke-linejoin: bevel"/>
     <path d="M 0 -3 L -0.673542 -0.927051 L -2.85317 -0.927051 L -1.089814 0.354102 L -1.763356 2.427051 L -0 1.145898 L 1.763356 2.427051 L 1.089814 0.354102 L 2.85317 -0.927051 L 0.673542 -0.927051 z" transform="translate(382.331055 196.558739)" style="fill: #0000ff; stroke: #0000ff; stroke-width: 1.12; stroke-linejoin: bevel"/>
     <path d="M 0 -3 L -0.673542 -0.927051 L -2.85317 -0.927051 L -1.089814 0.354102 L -1.763356 2.427051 L -0 1.145898 L 1.763356 2.427051 L 1.089814 0.354102 L 2.85317 -0.927051 L 0.673542 -0.927051 z" transform="translate(385.61608 189.31355)" style="fill: #0000ff; stroke: #0000ff; stroke-width: 1.12; stroke-linejoin: bevel"/>
     <path d="M 0 -3 L -0.673542 -0.927051 L -2.85317 -0.927051 L -1.089814 0.354102 L -1.763356 2.427051 L -0 1.145898 L 1.763356 2.427051 L 1.089814 0.354102 L 2.85317 -0.927051 L 0.673542 -0.927051 z" transform="translate(388.901106 181.557061)" style="fill: #0000ff; stroke: #0000ff; stroke-width: 1.12; stroke-linejoin: bevel"/>
     <path d="M 0 -3 L -0.673542 -0.927051 L -2.85317 -0.927051 L -1.089814 0.354102 L -1.763356 2.427051 L -0 1.145898 L 1.763356 2.427051 L 1.089814 0.354102 L 2.85317 -0.927051 L 0.673542 -0.927051 z" transform="translate(392.186132 173.571675)" style="fill: #0000ff; stroke: #0000ff; stroke-width: 1.12; stroke-linejoin: bevel"/>
    </g>
   </g>
   <g id="patch_3">
    <path d="M 50.720887 270.369686 
L 50.720887 3.733826 
" style="fill: none; stroke: #000000; stroke-width: 0.86; stroke-linejoin: miter; stroke-linecap: square"/>
   </g>
   <g id="patch_4">
    <path d="M 408.410351 270.369686 
L 408.410351 3.733826 
" style="fill: none; stroke: #000000; stroke-width: 0.86; stroke-linejoin: miter; stroke-linecap: square"/>
   </g>
   <g id="patch_5">
    <path d="M 50.720887 270.369686 
L 408.410351 270.369686 
" style="fill: none; stroke: #000000; stroke-width: 0.86; stroke-linejoin: miter; stroke-linecap: square"/>
   </g>
   <g id="patch_6">
    <path d="M 50.720887 3.733826 
L 408.410351 3.733826 
" style="fill: none; stroke: #000000; stroke-width: 0.86; stroke-linejoin: miter; stroke-linecap: square"/>
   </g>
   <g id="legend_1">
    <g id="patch_7">
     <path d="M 307.200351 70.666326 
L 401.410351 70.666326 
Q 403.410351 70.666326 403.410351 68.666326 
L 403.410351 10.733826 
Q 403.410351 8.733826 401.410351 8.733826 
L 307.200351 8.733826 
Q 305.200351 8.733826 305.200351 10.733826 
L 305.200351 68.666326 
Q 305.200351 70.666326 307.200351 70.666326 
z
" style="fill: #ffffff; stroke: #cccccc; stroke-linejoin: miter"/>
    </g>
    <g id="line2d_33">
     <path d="M 309.280351 16.912264 
L 319.280351 16.912264 
L 329.280351 16.912264 
" style="fill: none; stroke: #ff0000; stroke-width: 1.65; stroke-linecap: square"/>
    </g>
    <g id="text_17">
     <!-- $u$ for $\alpha=0.1$ -->
     <g transform="translate(336.850 20.412)">
      <text><tspan x="0.3000" y="-0.40625" style="font-style: oblique; font-size: 10px; font-family: 'DejaVu Sans', 'Liberation Sans', sans-serif">u</tspan> <tspan x="9.6451" y="-0.40625" style="font-size: 10px; font-family: 'DejaVu Sans', 'Liberation Sans', sans-serif">for</tspan> <tspan x="26.8023" y="-0.40625" style="font-style: oblique; font-size: 10px; font-family: 'DejaVu Sans', 'Liberation Sans', sans-serif">α</tspan> <tspan x="35.4577" y="-0.40625" style="font-size: 10px; font-family: 'DejaVu Sans', 'Liberation Sans', sans-serif">=</tspan> <tspan x="45.9242" y="-0.40625" style="font-size: 10px; font-family: 'DejaVu Sans', 'Liberation Sans', sans-serif">0.1</tspan></text>
     </g>
    </g>
    <g id="line2d_34">
     <path d="M 309.280351 31.610389 
L 319.280351 31.610389 
L 329.280351 31.610389 
" style="fill: none; stroke-dasharray: 5.65,2.3; stroke-dashoffset: 0; stroke: #000000; stroke-width: 1.65"/>
     <g>
      <path d="M 0 0 L 0 3 M 0 0 L 2.4 -1.5 M 0 0 L -2.4 -1.5 " transform="translate(319.280351 31.610389)" style="stroke: #000000; stroke-width: 1.12"/>
     </g>
    </g>
    <g id="text_18">
     <!-- $u$ for $\alpha=0.5$ -->
     <g transform="translate(336.850 35.110)">
      <text><tspan x="0.3000" y="-0.40625" style="font-style: oblique; font-size: 10px; font-family: 'DejaVu Sans', 'Liberation Sans', sans-serif">u</tspan> <tspan x="9.6451" y="-0.40625" style="font-size: 10px; font-family: 'DejaVu Sans', 'Liberation Sans', sans-serif">for</tspan> <tspan x="26.8023" y="-0.40625" style="font-style: oblique; font-size: 10px; font-family: 'DejaVu Sans', 'Liberation Sans', sans-serif">α</tspan> <tspan x="35.4577" y="-0.40625" style="font-size: 10px; font-family: 'DejaVu Sans', 'Liberation Sans', sans-serif">=</tspan> <tspan x="45.9242" y="-0.40625" style="font-size: 10px; font-family: 'DejaVu Sans', 'Liberation Sans', sans-serif">0.5</tspan></text>
     </g>
    </g>
    <g id="line2d_35">
     <path d="M 309.280351 46.308514 
L 319.280351 46.308514 
L 329.280351 46.308514 
" style="fill: none; stroke-dasharray: 9.7,2.3,1.6,2.3; stroke-dashoffset: 0; stroke: #008000; stroke-width: 1.65"/>
    </g>
    <g id="text_19">
     <!-- $u$ for $\alpha=0.7$ -->
     <g transform="translate(336.850 49.809)">
      <text><tspan x="0.3000" y="-0.40625" style="font-style: oblique; font-size: 10px; font-family: 'DejaVu Sans', 'Liberation Sans', sans-serif">u</tspan> <tspan x="9.6451" y="-0.40625" style="font-size: 10px; font-family: 'DejaVu Sans', 'Liberation Sans', sans-serif">for</tspan> <tspan x="26.8023" y="-0.40625" style="font-style: oblique; font-size: 10px; font-family: 'DejaVu Sans', 'Liberation Sans', sans-serif">α</tspan> <tspan x="35.4577" y="-0.40625" style="font-size: 10px; font-family: 'DejaVu Sans', 'Liberation Sans', sans-serif">=</tspan> <tspan x="45.9242" y="-0.40625" style="font-size: 10px; font-family: 'DejaVu Sans', 'Liberation Sans', sans-serif">0.7</tspan></text>
     </g>
    </g>
    <g id="line2d_36">
     <path d="M 309.280351 61.006639 
L 319.280351 61.006639 
L 329.280351 61.006639 
" style="fill: none; stroke-dasharray: 5.65,2.3; stroke-dashoffset: 0; stroke: #0000ff; stroke-width: 1.65"/>
     <g>
      <path d="M 0 -3 L -0.673542 -0.927051 L -2.85317 -0.927051 L -1.089814 0.354102 L -1.763356 2.427051 L -0 1.145898 L 1.763356 2.427051 L 1.089814 0.354102 L 2.85317 -0.927051 L 0.673542 -0.927051 z" transform="translate(319.280351 61.006639)" style="fill: #0000ff; stroke: #0000ff; stroke-width: 1.12; stroke-linejoin: bevel"/>
     </g>
    </g>
    <g id="text_20">
     <!-- $u$ for $\alpha=0.9$ -->
     <g transform="translate(336.850 64.507)">
      <text><tspan x="0.3000" y="-0.40625" style="font-style: oblique; font-size: 10px; font-family: 'DejaVu Sans', 'Liberation Sans', sans-serif">u</tspan> <tspan x="9.6451" y="-0.40625" style="font-size: 10px; font-family: 'DejaVu Sans', 'Liberation Sans', sans-serif">for</tspan> <tspan x="26.8023" y="-0.40625" style="font-style: oblique; font-size: 10px; font-family: 'DejaVu Sans', 'Liberation Sans', sans-serif">α</tspan> <tspan x="35.4577" y="-0.40625" style="font-size: 10px; font-family: 'DejaVu Sans', 'Liberation Sans', sans-serif">=</tspan> <tspan x="45.9242" y="-0.40625" style="font-size: 10px; font-family: 'DejaVu Sans', 'Liberation Sans', sans-serif">0.9</tspan></text>
     </g>
    </g>
   </g>
  </g>
 </g>
 <defs>
  <clipPath id="pef61b93e71">
   <rect x="50.720887" y="3.733826" width="357.689464" height="266.63586"/>
  </clipPath>
 </defs>
</svg>

</body></html>
